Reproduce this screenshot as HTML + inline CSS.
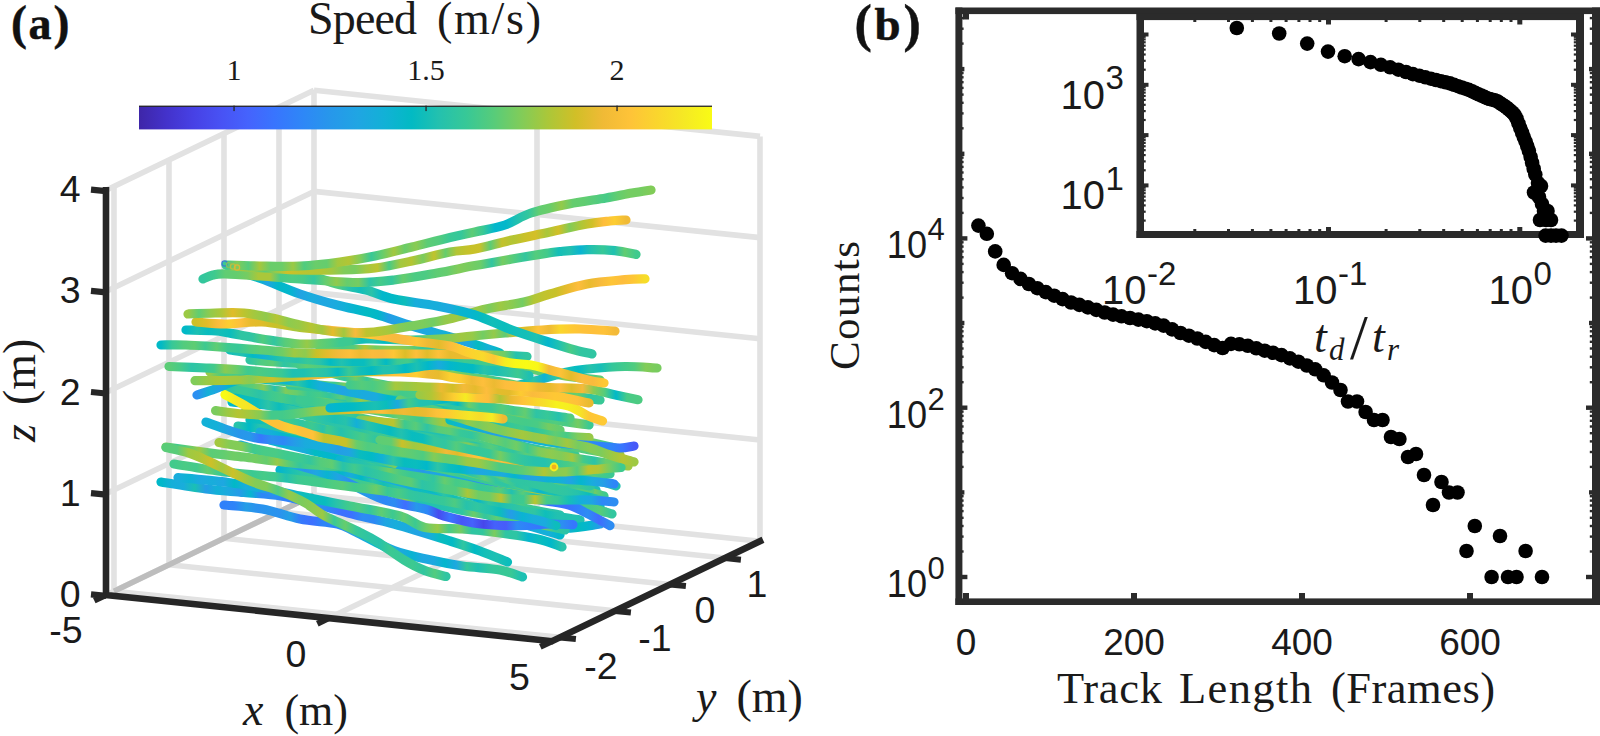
<!DOCTYPE html>
<html><head><meta charset="utf-8"><title>Figure</title>
<style>html,body{margin:0;padding:0;background:#fff}body{width:1600px;height:736px;overflow:hidden}svg{display:block}</style>
</head><body>
<svg width="1600" height="736" viewBox="0 0 1600 736">
<rect width="1600" height="736" fill="#fff"/>
<g stroke-linecap="butt" opacity="1">
<line x1="114.0" y1="591.2" x2="114.0" y2="186.4" stroke="#e2e2e2" stroke-width="5.6" />
<line x1="169.0" y1="564.7" x2="169.0" y2="159.9" stroke="#e2e2e2" stroke-width="5.6" />
<line x1="224.0" y1="538.3" x2="224.0" y2="133.5" stroke="#e2e2e2" stroke-width="5.6" />
<line x1="279.0" y1="511.8" x2="279.0" y2="107.0" stroke="#e2e2e2" stroke-width="5.6" />
<line x1="314.0" y1="495.0" x2="314.0" y2="90.2" stroke="#e2e2e2" stroke-width="5.6" />
<line x1="106.0" y1="595.0" x2="314.0" y2="495.0" stroke="#e2e2e2" stroke-width="5.6" />
<line x1="106.0" y1="493.8" x2="314.0" y2="393.8" stroke="#e2e2e2" stroke-width="5.6" />
<line x1="106.0" y1="392.6" x2="314.0" y2="292.6" stroke="#e2e2e2" stroke-width="5.6" />
<line x1="106.0" y1="291.4" x2="314.0" y2="191.4" stroke="#e2e2e2" stroke-width="5.6" />
<line x1="106.0" y1="190.2" x2="314.0" y2="90.2" stroke="#e2e2e2" stroke-width="5.6" />
<line x1="537.0" y1="518.1" x2="537.0" y2="113.3" stroke="#e2e2e2" stroke-width="5.6" />
<line x1="760.0" y1="541.2" x2="760.0" y2="136.4" stroke="#e2e2e2" stroke-width="5.6" />
<line x1="314.0" y1="495.0" x2="760.0" y2="541.2" stroke="#e2e2e2" stroke-width="5.6" />
<line x1="314.0" y1="393.8" x2="760.0" y2="440.0" stroke="#e2e2e2" stroke-width="5.6" />
<line x1="314.0" y1="292.6" x2="760.0" y2="338.8" stroke="#e2e2e2" stroke-width="5.6" />
<line x1="314.0" y1="191.4" x2="760.0" y2="237.6" stroke="#e2e2e2" stroke-width="5.6" />
<line x1="314.0" y1="90.2" x2="760.0" y2="136.4" stroke="#e2e2e2" stroke-width="5.6" />
<line x1="114.0" y1="591.2" x2="560.0" y2="637.4" stroke="#e2e2e2" stroke-width="5.6" />
<line x1="169.0" y1="564.7" x2="615.0" y2="610.9" stroke="#e2e2e2" stroke-width="5.6" />
<line x1="224.0" y1="538.3" x2="670.0" y2="584.5" stroke="#e2e2e2" stroke-width="5.6" />
<line x1="279.0" y1="511.8" x2="725.0" y2="558.0" stroke="#e2e2e2" stroke-width="5.6" />
<line x1="329.0" y1="618.1" x2="537.0" y2="518.1" stroke="#e2e2e2" stroke-width="5.6" />
<line x1="114.0" y1="591.2" x2="314.0" y2="495.0" stroke="#bdbdbd" stroke-width="5.6" />
</g>
<defs><linearGradient id="cb" x1="0" x2="1" y1="0" y2="0">
<stop offset="0.000" stop-color="#3e26a8"/>
<stop offset="0.048" stop-color="#4332cb"/>
<stop offset="0.095" stop-color="#4741e5"/>
<stop offset="0.143" stop-color="#4852f4"/>
<stop offset="0.190" stop-color="#4563fd"/>
<stop offset="0.238" stop-color="#3875fe"/>
<stop offset="0.286" stop-color="#2e87f7"/>
<stop offset="0.333" stop-color="#2797eb"/>
<stop offset="0.381" stop-color="#20a5e3"/>
<stop offset="0.429" stop-color="#12b1d6"/>
<stop offset="0.476" stop-color="#02bac3"/>
<stop offset="0.524" stop-color="#24c1ae"/>
<stop offset="0.571" stop-color="#37c897"/>
<stop offset="0.619" stop-color="#57cc7a"/>
<stop offset="0.667" stop-color="#81cc59"/>
<stop offset="0.714" stop-color="#abc739"/>
<stop offset="0.762" stop-color="#d1bf27"/>
<stop offset="0.810" stop-color="#f0ba36"/>
<stop offset="0.857" stop-color="#fec338"/>
<stop offset="0.905" stop-color="#fad62d"/>
<stop offset="0.952" stop-color="#f5e924"/>
<stop offset="1.000" stop-color="#f9fb15"/>
<stop offset="1" stop-color="#f9fb15"/>
</linearGradient></defs>
<rect x="139" y="106" width="573" height="23.4" fill="url(#cb)"/>
<rect x="139" y="105.6" width="573" height="1.3" fill="#262626"/>
<rect x="233.4" y="105.6" width="1.3" height="5.5" fill="#262626"/>
<rect x="425.4" y="105.6" width="1.3" height="5.5" fill="#262626"/>
<rect x="616.4" y="105.6" width="1.3" height="5.5" fill="#262626"/>
<defs><linearGradient id="g0" gradientUnits="userSpaceOnUse" x1="240" x2="580" y1="0" y2="0"><stop offset="0.000" stop-color="#0cbdbc"/><stop offset="0.033" stop-color="#2ec5a4"/><stop offset="0.067" stop-color="#06bcc0"/><stop offset="0.100" stop-color="#35c79b"/><stop offset="0.133" stop-color="#29c3aa"/><stop offset="0.167" stop-color="#2ec5a4"/><stop offset="0.200" stop-color="#62cd70"/><stop offset="0.233" stop-color="#3cc991"/><stop offset="0.267" stop-color="#3dca90"/><stop offset="0.300" stop-color="#58cc79"/><stop offset="0.333" stop-color="#6ccd69"/><stop offset="0.367" stop-color="#4ccb83"/><stop offset="0.400" stop-color="#55cc7b"/><stop offset="0.433" stop-color="#31c5a1"/><stop offset="0.467" stop-color="#35c79a"/><stop offset="0.500" stop-color="#31c5a1"/><stop offset="0.533" stop-color="#1dc0b3"/><stop offset="0.567" stop-color="#20c1b1"/><stop offset="0.600" stop-color="#23c1af"/><stop offset="0.633" stop-color="#3cc992"/><stop offset="0.667" stop-color="#43ca8b"/><stop offset="0.700" stop-color="#46cb88"/><stop offset="0.733" stop-color="#52cc7e"/><stop offset="0.767" stop-color="#34c79b"/><stop offset="0.800" stop-color="#4dcc82"/><stop offset="0.833" stop-color="#56cc7b"/><stop offset="0.867" stop-color="#65cd6e"/><stop offset="0.900" stop-color="#38c896"/><stop offset="0.933" stop-color="#39c895"/><stop offset="0.967" stop-color="#15bfb7"/><stop offset="1.000" stop-color="#2dc4a6"/></linearGradient><linearGradient id="g1" gradientUnits="userSpaceOnUse" x1="250" x2="600" y1="0" y2="0"><stop offset="0.000" stop-color="#06bcc0"/><stop offset="0.032" stop-color="#0fbeba"/><stop offset="0.065" stop-color="#37c897"/><stop offset="0.097" stop-color="#08b4d1"/><stop offset="0.129" stop-color="#2ac3a9"/><stop offset="0.161" stop-color="#17bfb7"/><stop offset="0.194" stop-color="#09bcbe"/><stop offset="0.226" stop-color="#26c2ac"/><stop offset="0.258" stop-color="#2dc4a5"/><stop offset="0.290" stop-color="#39c895"/><stop offset="0.323" stop-color="#2dc4a5"/><stop offset="0.355" stop-color="#2dc4a6"/><stop offset="0.387" stop-color="#30c5a1"/><stop offset="0.419" stop-color="#2fc5a3"/><stop offset="0.452" stop-color="#41ca8c"/><stop offset="0.484" stop-color="#38c896"/><stop offset="0.516" stop-color="#6ecd66"/><stop offset="0.548" stop-color="#29c3a9"/><stop offset="0.581" stop-color="#30c5a1"/><stop offset="0.613" stop-color="#2fc5a3"/><stop offset="0.645" stop-color="#11beba"/><stop offset="0.677" stop-color="#5fcd73"/><stop offset="0.710" stop-color="#06bbc1"/><stop offset="0.742" stop-color="#35c79a"/><stop offset="0.774" stop-color="#36c799"/><stop offset="0.806" stop-color="#74cc62"/><stop offset="0.839" stop-color="#2ac3a9"/><stop offset="0.871" stop-color="#6acd69"/><stop offset="0.903" stop-color="#36c899"/><stop offset="0.935" stop-color="#3ac994"/><stop offset="0.968" stop-color="#2fc5a3"/><stop offset="1.000" stop-color="#3dc991"/></linearGradient><linearGradient id="g2" gradientUnits="userSpaceOnUse" x1="230" x2="575" y1="0" y2="0"><stop offset="0.000" stop-color="#37c898"/><stop offset="0.032" stop-color="#4dcc82"/><stop offset="0.065" stop-color="#5acc78"/><stop offset="0.097" stop-color="#88cb53"/><stop offset="0.129" stop-color="#25c2ae"/><stop offset="0.161" stop-color="#7ecc5b"/><stop offset="0.194" stop-color="#66cd6d"/><stop offset="0.226" stop-color="#3ac993"/><stop offset="0.258" stop-color="#45cb88"/><stop offset="0.290" stop-color="#33c69d"/><stop offset="0.323" stop-color="#5ccc76"/><stop offset="0.355" stop-color="#35c79b"/><stop offset="0.387" stop-color="#2ac3a9"/><stop offset="0.419" stop-color="#23c1af"/><stop offset="0.452" stop-color="#1bc0b4"/><stop offset="0.484" stop-color="#11beb9"/><stop offset="0.516" stop-color="#01b8c9"/><stop offset="0.548" stop-color="#38c896"/><stop offset="0.581" stop-color="#07b5cf"/><stop offset="0.613" stop-color="#1baade"/><stop offset="0.645" stop-color="#2ac3a9"/><stop offset="0.677" stop-color="#2fc5a3"/><stop offset="0.710" stop-color="#38c896"/><stop offset="0.742" stop-color="#30c5a1"/><stop offset="0.774" stop-color="#31c6a0"/><stop offset="0.806" stop-color="#37c897"/><stop offset="0.839" stop-color="#44ca8a"/><stop offset="0.871" stop-color="#2ec4a5"/><stop offset="0.903" stop-color="#33c69d"/><stop offset="0.935" stop-color="#74cc62"/><stop offset="0.968" stop-color="#55cc7c"/><stop offset="1.000" stop-color="#39c895"/></linearGradient><linearGradient id="g3" gradientUnits="userSpaceOnUse" x1="270" x2="560" y1="0" y2="0"><stop offset="0.000" stop-color="#05bbc1"/><stop offset="0.038" stop-color="#08b4d0"/><stop offset="0.077" stop-color="#18addb"/><stop offset="0.115" stop-color="#19acdc"/><stop offset="0.154" stop-color="#02bbc3"/><stop offset="0.192" stop-color="#03b7cc"/><stop offset="0.231" stop-color="#01b8ca"/><stop offset="0.269" stop-color="#01b9c8"/><stop offset="0.308" stop-color="#17bfb6"/><stop offset="0.346" stop-color="#39c994"/><stop offset="0.385" stop-color="#29c3a9"/><stop offset="0.423" stop-color="#1bc0b4"/><stop offset="0.462" stop-color="#44cb89"/><stop offset="0.500" stop-color="#3dc990"/><stop offset="0.538" stop-color="#57cc7a"/><stop offset="0.577" stop-color="#69cd6a"/><stop offset="0.615" stop-color="#4acb85"/><stop offset="0.654" stop-color="#4ccb83"/><stop offset="0.692" stop-color="#4ecc81"/><stop offset="0.731" stop-color="#37c898"/><stop offset="0.769" stop-color="#62cd70"/><stop offset="0.808" stop-color="#78cc5f"/><stop offset="0.846" stop-color="#50cc7f"/><stop offset="0.885" stop-color="#3eca8f"/><stop offset="0.923" stop-color="#38c896"/><stop offset="0.962" stop-color="#2dc4a5"/><stop offset="1.000" stop-color="#28c3ab"/></linearGradient><linearGradient id="g4" gradientUnits="userSpaceOnUse" x1="300" x2="576" y1="0" y2="0"><stop offset="0.000" stop-color="#02bac3"/><stop offset="0.040" stop-color="#08b4d0"/><stop offset="0.080" stop-color="#09b4d1"/><stop offset="0.120" stop-color="#1fa6e2"/><stop offset="0.160" stop-color="#0db3d3"/><stop offset="0.200" stop-color="#19acdc"/><stop offset="0.240" stop-color="#22a1e4"/><stop offset="0.280" stop-color="#269ae8"/><stop offset="0.320" stop-color="#09b4d1"/><stop offset="0.360" stop-color="#10beba"/><stop offset="0.400" stop-color="#05b6ce"/><stop offset="0.440" stop-color="#02bac4"/><stop offset="0.480" stop-color="#07bcc0"/><stop offset="0.520" stop-color="#2cc4a7"/><stop offset="0.560" stop-color="#10beba"/><stop offset="0.600" stop-color="#3ac993"/><stop offset="0.640" stop-color="#2ec4a4"/><stop offset="0.680" stop-color="#3dc990"/><stop offset="0.720" stop-color="#2cc4a7"/><stop offset="0.760" stop-color="#1fc0b1"/><stop offset="0.800" stop-color="#01b8ca"/><stop offset="0.840" stop-color="#02bac4"/><stop offset="0.880" stop-color="#01b8c9"/><stop offset="0.920" stop-color="#12b1d6"/><stop offset="0.960" stop-color="#269ae8"/><stop offset="1.000" stop-color="#3578fd"/></linearGradient><linearGradient id="g5" gradientUnits="userSpaceOnUse" x1="260" x2="600" y1="0" y2="0"><stop offset="0.000" stop-color="#18aedb"/><stop offset="0.033" stop-color="#0eb2d4"/><stop offset="0.067" stop-color="#1da9e0"/><stop offset="0.100" stop-color="#1fa6e2"/><stop offset="0.133" stop-color="#1fa6e2"/><stop offset="0.167" stop-color="#12b1d6"/><stop offset="0.200" stop-color="#10b2d5"/><stop offset="0.233" stop-color="#1ca9e0"/><stop offset="0.267" stop-color="#01b7ca"/><stop offset="0.300" stop-color="#07b5cf"/><stop offset="0.333" stop-color="#04b6cc"/><stop offset="0.367" stop-color="#2bc3a8"/><stop offset="0.400" stop-color="#2bc3a8"/><stop offset="0.433" stop-color="#0fbebb"/><stop offset="0.467" stop-color="#2bc3a8"/><stop offset="0.500" stop-color="#35c79a"/><stop offset="0.533" stop-color="#2bc3a8"/><stop offset="0.567" stop-color="#35c79a"/><stop offset="0.600" stop-color="#4acb84"/><stop offset="0.633" stop-color="#25c2ad"/><stop offset="0.667" stop-color="#50cc80"/><stop offset="0.700" stop-color="#63cd70"/><stop offset="0.733" stop-color="#5ecc74"/><stop offset="0.767" stop-color="#34c79b"/><stop offset="0.800" stop-color="#59cc79"/><stop offset="0.833" stop-color="#3bc992"/><stop offset="0.867" stop-color="#60cd73"/><stop offset="0.900" stop-color="#5bcc77"/><stop offset="0.933" stop-color="#45cb89"/><stop offset="0.967" stop-color="#2fc5a3"/><stop offset="1.000" stop-color="#2cc4a7"/></linearGradient><linearGradient id="g6" gradientUnits="userSpaceOnUse" x1="300" x2="589" y1="0" y2="0"><stop offset="0.000" stop-color="#68cd6b"/><stop offset="0.038" stop-color="#36c898"/><stop offset="0.077" stop-color="#4fcc81"/><stop offset="0.115" stop-color="#48cb86"/><stop offset="0.154" stop-color="#34c79b"/><stop offset="0.192" stop-color="#6fcd66"/><stop offset="0.231" stop-color="#36c899"/><stop offset="0.269" stop-color="#71cd64"/><stop offset="0.308" stop-color="#1dc0b3"/><stop offset="0.346" stop-color="#1ec0b2"/><stop offset="0.385" stop-color="#65cd6e"/><stop offset="0.423" stop-color="#64cd6f"/><stop offset="0.462" stop-color="#55cc7b"/><stop offset="0.500" stop-color="#69cd6b"/><stop offset="0.538" stop-color="#41ca8c"/><stop offset="0.577" stop-color="#71cd64"/><stop offset="0.615" stop-color="#72cd64"/><stop offset="0.654" stop-color="#84cc56"/><stop offset="0.692" stop-color="#9ac946"/><stop offset="0.731" stop-color="#71cd64"/><stop offset="0.769" stop-color="#6ecd67"/><stop offset="0.808" stop-color="#44cb8a"/><stop offset="0.846" stop-color="#44cb89"/><stop offset="0.885" stop-color="#53cc7d"/><stop offset="0.923" stop-color="#48cb86"/><stop offset="0.962" stop-color="#75cc61"/><stop offset="1.000" stop-color="#3bc993"/></linearGradient><linearGradient id="g7" gradientUnits="userSpaceOnUse" x1="232" x2="590" y1="0" y2="0"><stop offset="0.000" stop-color="#01b9c7"/><stop offset="0.031" stop-color="#1fa5e2"/><stop offset="0.062" stop-color="#01bac5"/><stop offset="0.094" stop-color="#13b0d7"/><stop offset="0.125" stop-color="#26c2ad"/><stop offset="0.156" stop-color="#0bbdbd"/><stop offset="0.188" stop-color="#0abdbd"/><stop offset="0.219" stop-color="#07bcbf"/><stop offset="0.250" stop-color="#15afd9"/><stop offset="0.281" stop-color="#1ea7e1"/><stop offset="0.312" stop-color="#2798ea"/><stop offset="0.344" stop-color="#05b6ce"/><stop offset="0.375" stop-color="#1caadf"/><stop offset="0.406" stop-color="#15afd9"/><stop offset="0.438" stop-color="#02b7cb"/><stop offset="0.469" stop-color="#2dc4a5"/><stop offset="0.500" stop-color="#10b2d5"/><stop offset="0.531" stop-color="#1cc0b3"/><stop offset="0.562" stop-color="#15bfb8"/><stop offset="0.594" stop-color="#2fc5a3"/><stop offset="0.625" stop-color="#04bbc2"/><stop offset="0.656" stop-color="#2dc4a6"/><stop offset="0.688" stop-color="#3bc992"/><stop offset="0.719" stop-color="#42ca8b"/><stop offset="0.750" stop-color="#3cc992"/><stop offset="0.781" stop-color="#05bbc1"/><stop offset="0.812" stop-color="#12beb9"/><stop offset="0.844" stop-color="#04bbc2"/><stop offset="0.875" stop-color="#16afd9"/><stop offset="0.906" stop-color="#1caadf"/><stop offset="0.938" stop-color="#01b8ca"/><stop offset="0.969" stop-color="#13b0d7"/><stop offset="1.000" stop-color="#1da9e0"/></linearGradient><linearGradient id="g8" gradientUnits="userSpaceOnUse" x1="238" x2="596" y1="0" y2="0"><stop offset="0.000" stop-color="#28c3aa"/><stop offset="0.031" stop-color="#01b9c7"/><stop offset="0.062" stop-color="#29c3aa"/><stop offset="0.094" stop-color="#26c2ac"/><stop offset="0.125" stop-color="#2bc3a8"/><stop offset="0.156" stop-color="#37c898"/><stop offset="0.188" stop-color="#37c898"/><stop offset="0.219" stop-color="#3dc990"/><stop offset="0.250" stop-color="#42ca8b"/><stop offset="0.281" stop-color="#7acc5d"/><stop offset="0.312" stop-color="#41ca8c"/><stop offset="0.344" stop-color="#6ccd68"/><stop offset="0.375" stop-color="#58cc79"/><stop offset="0.406" stop-color="#3ac993"/><stop offset="0.438" stop-color="#4fcc81"/><stop offset="0.469" stop-color="#2dc4a6"/><stop offset="0.500" stop-color="#4acb84"/><stop offset="0.531" stop-color="#2bc3a8"/><stop offset="0.562" stop-color="#33c69e"/><stop offset="0.594" stop-color="#46cb88"/><stop offset="0.625" stop-color="#5bcc77"/><stop offset="0.656" stop-color="#65cd6e"/><stop offset="0.688" stop-color="#69cd6a"/><stop offset="0.719" stop-color="#4acb85"/><stop offset="0.750" stop-color="#3ac994"/><stop offset="0.781" stop-color="#5fcd73"/><stop offset="0.812" stop-color="#58cc79"/><stop offset="0.844" stop-color="#3ac994"/><stop offset="0.875" stop-color="#63cd70"/><stop offset="0.906" stop-color="#46cb88"/><stop offset="0.938" stop-color="#2ec5a4"/><stop offset="0.969" stop-color="#3eca8f"/><stop offset="1.000" stop-color="#1dc0b3"/></linearGradient><linearGradient id="g9" gradientUnits="userSpaceOnUse" x1="270" x2="610" y1="0" y2="0"><stop offset="0.000" stop-color="#3bc993"/><stop offset="0.033" stop-color="#53cc7d"/><stop offset="0.067" stop-color="#2ac3a9"/><stop offset="0.100" stop-color="#3dc990"/><stop offset="0.133" stop-color="#24c2ae"/><stop offset="0.167" stop-color="#40ca8d"/><stop offset="0.200" stop-color="#2cc4a6"/><stop offset="0.233" stop-color="#3dc991"/><stop offset="0.267" stop-color="#28c3aa"/><stop offset="0.300" stop-color="#3dc990"/><stop offset="0.333" stop-color="#66cd6d"/><stop offset="0.367" stop-color="#62cd71"/><stop offset="0.400" stop-color="#36c799"/><stop offset="0.433" stop-color="#8ccb50"/><stop offset="0.467" stop-color="#98c947"/><stop offset="0.500" stop-color="#7ecc5b"/><stop offset="0.533" stop-color="#bfc32d"/><stop offset="0.567" stop-color="#65cd6e"/><stop offset="0.600" stop-color="#76cc61"/><stop offset="0.633" stop-color="#8fcb4e"/><stop offset="0.667" stop-color="#87cb54"/><stop offset="0.700" stop-color="#78cc5f"/><stop offset="0.733" stop-color="#37c897"/><stop offset="0.767" stop-color="#2fc5a3"/><stop offset="0.800" stop-color="#5bcc77"/><stop offset="0.833" stop-color="#33c69d"/><stop offset="0.867" stop-color="#4ccb83"/><stop offset="0.900" stop-color="#32c69e"/><stop offset="0.933" stop-color="#5ccc76"/><stop offset="0.967" stop-color="#49cb85"/><stop offset="1.000" stop-color="#3bc992"/></linearGradient><linearGradient id="g10" gradientUnits="userSpaceOnUse" x1="300" x2="600" y1="0" y2="0"><stop offset="0.000" stop-color="#33c79d"/><stop offset="0.037" stop-color="#2fc5a3"/><stop offset="0.074" stop-color="#24c1af"/><stop offset="0.111" stop-color="#29c3aa"/><stop offset="0.148" stop-color="#1fc0b2"/><stop offset="0.185" stop-color="#1bc0b4"/><stop offset="0.222" stop-color="#06bcc1"/><stop offset="0.259" stop-color="#3ac994"/><stop offset="0.296" stop-color="#29c3aa"/><stop offset="0.333" stop-color="#3eca8f"/><stop offset="0.370" stop-color="#45cb89"/><stop offset="0.407" stop-color="#28c2ab"/><stop offset="0.444" stop-color="#1cc0b4"/><stop offset="0.481" stop-color="#5bcc76"/><stop offset="0.519" stop-color="#39c994"/><stop offset="0.556" stop-color="#49cb85"/><stop offset="0.593" stop-color="#47cb87"/><stop offset="0.630" stop-color="#4dcc82"/><stop offset="0.667" stop-color="#30c5a1"/><stop offset="0.704" stop-color="#3cc992"/><stop offset="0.741" stop-color="#33c69e"/><stop offset="0.778" stop-color="#35c79a"/><stop offset="0.815" stop-color="#02bac5"/><stop offset="0.852" stop-color="#37c897"/><stop offset="0.889" stop-color="#2cc4a7"/><stop offset="0.926" stop-color="#03b7cc"/><stop offset="0.963" stop-color="#02bbc3"/><stop offset="1.000" stop-color="#0abdbd"/></linearGradient><linearGradient id="g11" gradientUnits="userSpaceOnUse" x1="310" x2="604" y1="0" y2="0"><stop offset="0.000" stop-color="#61cd71"/><stop offset="0.038" stop-color="#50cc80"/><stop offset="0.077" stop-color="#79cc5e"/><stop offset="0.115" stop-color="#50cc7f"/><stop offset="0.154" stop-color="#39c895"/><stop offset="0.192" stop-color="#3fca8f"/><stop offset="0.231" stop-color="#5fcd73"/><stop offset="0.269" stop-color="#38c896"/><stop offset="0.308" stop-color="#53cc7d"/><stop offset="0.346" stop-color="#50cc7f"/><stop offset="0.385" stop-color="#3fca8e"/><stop offset="0.423" stop-color="#47cb87"/><stop offset="0.462" stop-color="#36c799"/><stop offset="0.500" stop-color="#3cc991"/><stop offset="0.538" stop-color="#37c897"/><stop offset="0.577" stop-color="#3bc992"/><stop offset="0.615" stop-color="#32c69f"/><stop offset="0.654" stop-color="#4dcc82"/><stop offset="0.692" stop-color="#4bcb84"/><stop offset="0.731" stop-color="#4dcb82"/><stop offset="0.769" stop-color="#8acb52"/><stop offset="0.808" stop-color="#a1c840"/><stop offset="0.846" stop-color="#7fcc5a"/><stop offset="0.885" stop-color="#a6c83d"/><stop offset="0.923" stop-color="#8acb52"/><stop offset="0.962" stop-color="#7dcc5b"/><stop offset="1.000" stop-color="#40ca8d"/></linearGradient><linearGradient id="g12" gradientUnits="userSpaceOnUse" x1="340" x2="580" y1="0" y2="0"><stop offset="0.000" stop-color="#0cb3d3"/><stop offset="0.048" stop-color="#23c1af"/><stop offset="0.095" stop-color="#26c2ad"/><stop offset="0.143" stop-color="#31c69f"/><stop offset="0.190" stop-color="#32c69e"/><stop offset="0.238" stop-color="#48cb86"/><stop offset="0.286" stop-color="#2cc4a7"/><stop offset="0.333" stop-color="#33c69d"/><stop offset="0.381" stop-color="#0bbdbd"/><stop offset="0.429" stop-color="#11b1d6"/><stop offset="0.476" stop-color="#05bbc1"/><stop offset="0.524" stop-color="#2fc5a3"/><stop offset="0.571" stop-color="#05b6cd"/><stop offset="0.619" stop-color="#33c69e"/><stop offset="0.667" stop-color="#1cc0b3"/><stop offset="0.714" stop-color="#2ac3a9"/><stop offset="0.762" stop-color="#32c69e"/><stop offset="0.810" stop-color="#30c5a2"/><stop offset="0.857" stop-color="#0ebebb"/><stop offset="0.905" stop-color="#22c1b0"/><stop offset="0.952" stop-color="#20c1b1"/><stop offset="1.000" stop-color="#21c1b1"/></linearGradient><linearGradient id="g13" gradientUnits="userSpaceOnUse" x1="360" x2="628" y1="0" y2="0"><stop offset="0.000" stop-color="#7ecc5b"/><stop offset="0.042" stop-color="#b8c431"/><stop offset="0.083" stop-color="#b6c532"/><stop offset="0.125" stop-color="#b8c431"/><stop offset="0.167" stop-color="#3dc990"/><stop offset="0.208" stop-color="#59cc78"/><stop offset="0.250" stop-color="#2ec4a5"/><stop offset="0.292" stop-color="#5acc77"/><stop offset="0.333" stop-color="#5fcd73"/><stop offset="0.375" stop-color="#37c898"/><stop offset="0.417" stop-color="#31c6a0"/><stop offset="0.458" stop-color="#58cc79"/><stop offset="0.500" stop-color="#71cd64"/><stop offset="0.542" stop-color="#54cc7c"/><stop offset="0.583" stop-color="#70cd65"/><stop offset="0.625" stop-color="#3eca8f"/><stop offset="0.667" stop-color="#7ecc5b"/><stop offset="0.708" stop-color="#8fcb4e"/><stop offset="0.750" stop-color="#81cc58"/><stop offset="0.792" stop-color="#a1c840"/><stop offset="0.833" stop-color="#42ca8b"/><stop offset="0.875" stop-color="#2bc3a8"/><stop offset="0.917" stop-color="#6acd6a"/><stop offset="0.958" stop-color="#66cd6d"/><stop offset="1.000" stop-color="#9fc942"/></linearGradient><linearGradient id="g14" gradientUnits="userSpaceOnUse" x1="400" x2="616" y1="0" y2="0"><stop offset="0.000" stop-color="#3eca8f"/><stop offset="0.053" stop-color="#41ca8c"/><stop offset="0.105" stop-color="#5fcd73"/><stop offset="0.158" stop-color="#64cd6e"/><stop offset="0.211" stop-color="#2cc4a7"/><stop offset="0.263" stop-color="#4ccb83"/><stop offset="0.316" stop-color="#87cb54"/><stop offset="0.368" stop-color="#3bc992"/><stop offset="0.421" stop-color="#56cc7b"/><stop offset="0.474" stop-color="#38c896"/><stop offset="0.526" stop-color="#30c5a2"/><stop offset="0.579" stop-color="#57cc7a"/><stop offset="0.632" stop-color="#50cc80"/><stop offset="0.684" stop-color="#39c895"/><stop offset="0.737" stop-color="#5bcc76"/><stop offset="0.789" stop-color="#32c69f"/><stop offset="0.842" stop-color="#3cc991"/><stop offset="0.895" stop-color="#5acc77"/><stop offset="0.947" stop-color="#3ac994"/><stop offset="1.000" stop-color="#23c1af"/></linearGradient><linearGradient id="g15" gradientUnits="userSpaceOnUse" x1="280" x2="575" y1="0" y2="0"><stop offset="0.000" stop-color="#17bfb7"/><stop offset="0.038" stop-color="#1dc0b3"/><stop offset="0.077" stop-color="#34c79c"/><stop offset="0.115" stop-color="#34c79b"/><stop offset="0.154" stop-color="#29c3aa"/><stop offset="0.192" stop-color="#2cc4a7"/><stop offset="0.231" stop-color="#2ec4a4"/><stop offset="0.269" stop-color="#27c2ac"/><stop offset="0.308" stop-color="#39c895"/><stop offset="0.346" stop-color="#35c79a"/><stop offset="0.385" stop-color="#2ec4a4"/><stop offset="0.423" stop-color="#19bfb5"/><stop offset="0.462" stop-color="#12beb9"/><stop offset="0.500" stop-color="#31c6a0"/><stop offset="0.538" stop-color="#23c1af"/><stop offset="0.577" stop-color="#32c69f"/><stop offset="0.615" stop-color="#14bfb8"/><stop offset="0.654" stop-color="#32c69f"/><stop offset="0.692" stop-color="#60cd72"/><stop offset="0.731" stop-color="#31c6a0"/><stop offset="0.769" stop-color="#2ec5a4"/><stop offset="0.808" stop-color="#4acb85"/><stop offset="0.846" stop-color="#7acc5e"/><stop offset="0.885" stop-color="#6acd6a"/><stop offset="0.923" stop-color="#36c899"/><stop offset="0.962" stop-color="#31c6a0"/><stop offset="1.000" stop-color="#32c69f"/></linearGradient><linearGradient id="g16" gradientUnits="userSpaceOnUse" x1="226" x2="580" y1="0" y2="0"><stop offset="0.000" stop-color="#26c2ad"/><stop offset="0.031" stop-color="#37c897"/><stop offset="0.062" stop-color="#37c898"/><stop offset="0.094" stop-color="#2bc3a7"/><stop offset="0.125" stop-color="#3cc992"/><stop offset="0.156" stop-color="#48cb86"/><stop offset="0.188" stop-color="#36c898"/><stop offset="0.219" stop-color="#30c5a1"/><stop offset="0.250" stop-color="#52cc7e"/><stop offset="0.281" stop-color="#67cd6d"/><stop offset="0.312" stop-color="#30c5a1"/><stop offset="0.344" stop-color="#30c5a1"/><stop offset="0.375" stop-color="#43ca8a"/><stop offset="0.406" stop-color="#3ac994"/><stop offset="0.438" stop-color="#35c79a"/><stop offset="0.469" stop-color="#73cd63"/><stop offset="0.500" stop-color="#38c896"/><stop offset="0.531" stop-color="#3eca90"/><stop offset="0.562" stop-color="#3fca8e"/><stop offset="0.594" stop-color="#3bc993"/><stop offset="0.625" stop-color="#49cb85"/><stop offset="0.656" stop-color="#60cd72"/><stop offset="0.688" stop-color="#73cd62"/><stop offset="0.719" stop-color="#55cc7c"/><stop offset="0.750" stop-color="#3eca8f"/><stop offset="0.781" stop-color="#27c2ab"/><stop offset="0.812" stop-color="#34c79b"/><stop offset="0.844" stop-color="#27c2ab"/><stop offset="0.875" stop-color="#36c898"/><stop offset="0.906" stop-color="#55cc7c"/><stop offset="0.938" stop-color="#47cb87"/><stop offset="0.969" stop-color="#43ca8a"/><stop offset="1.000" stop-color="#3dc990"/></linearGradient><linearGradient id="g17" gradientUnits="userSpaceOnUse" x1="380" x2="600" y1="0" y2="0"><stop offset="0.000" stop-color="#1caadf"/><stop offset="0.050" stop-color="#15afd9"/><stop offset="0.100" stop-color="#1baade"/><stop offset="0.150" stop-color="#10b2d5"/><stop offset="0.200" stop-color="#0fbeba"/><stop offset="0.250" stop-color="#13b0d7"/><stop offset="0.300" stop-color="#01b9c8"/><stop offset="0.350" stop-color="#14b0d8"/><stop offset="0.400" stop-color="#14beb8"/><stop offset="0.450" stop-color="#04b6cd"/><stop offset="0.500" stop-color="#0fb2d4"/><stop offset="0.550" stop-color="#17aeda"/><stop offset="0.600" stop-color="#12b1d6"/><stop offset="0.650" stop-color="#07b5d0"/><stop offset="0.700" stop-color="#1da9e0"/><stop offset="0.750" stop-color="#02bbc3"/><stop offset="0.800" stop-color="#16bfb7"/><stop offset="0.850" stop-color="#13b0d7"/><stop offset="0.900" stop-color="#03bbc2"/><stop offset="0.950" stop-color="#06b5cf"/><stop offset="1.000" stop-color="#269be8"/></linearGradient><linearGradient id="g18" gradientUnits="userSpaceOnUse" x1="235" x2="600" y1="0" y2="0"><stop offset="0.000" stop-color="#02bac4"/><stop offset="0.030" stop-color="#0bbdbd"/><stop offset="0.061" stop-color="#0ebdbb"/><stop offset="0.091" stop-color="#2cc4a7"/><stop offset="0.121" stop-color="#0cbdbc"/><stop offset="0.152" stop-color="#2dc4a6"/><stop offset="0.182" stop-color="#35c79a"/><stop offset="0.212" stop-color="#37c897"/><stop offset="0.242" stop-color="#29c3aa"/><stop offset="0.273" stop-color="#1bc0b4"/><stop offset="0.303" stop-color="#27c2ab"/><stop offset="0.333" stop-color="#13b0d7"/><stop offset="0.364" stop-color="#28c2ab"/><stop offset="0.394" stop-color="#13beb9"/><stop offset="0.424" stop-color="#05bbc1"/><stop offset="0.455" stop-color="#23c1af"/><stop offset="0.485" stop-color="#08bcbf"/><stop offset="0.515" stop-color="#0abdbd"/><stop offset="0.545" stop-color="#33c69d"/><stop offset="0.576" stop-color="#31c6a0"/><stop offset="0.606" stop-color="#54cc7c"/><stop offset="0.636" stop-color="#36c899"/><stop offset="0.667" stop-color="#34c79b"/><stop offset="0.697" stop-color="#36c899"/><stop offset="0.727" stop-color="#74cd62"/><stop offset="0.758" stop-color="#3eca8f"/><stop offset="0.788" stop-color="#31c5a1"/><stop offset="0.818" stop-color="#27c2ab"/><stop offset="0.848" stop-color="#25c2ae"/><stop offset="0.879" stop-color="#36c799"/><stop offset="0.909" stop-color="#46cb88"/><stop offset="0.939" stop-color="#61cd71"/><stop offset="0.970" stop-color="#69cd6b"/><stop offset="1.000" stop-color="#57cc7a"/></linearGradient><linearGradient id="g19" gradientUnits="userSpaceOnUse" x1="245" x2="590" y1="0" y2="0"><stop offset="0.000" stop-color="#3fca8e"/><stop offset="0.032" stop-color="#37c898"/><stop offset="0.065" stop-color="#19bfb5"/><stop offset="0.097" stop-color="#2dc4a5"/><stop offset="0.129" stop-color="#3dca90"/><stop offset="0.161" stop-color="#2fc5a3"/><stop offset="0.194" stop-color="#3dc991"/><stop offset="0.226" stop-color="#28c3ab"/><stop offset="0.258" stop-color="#57cc7a"/><stop offset="0.290" stop-color="#4ecc81"/><stop offset="0.323" stop-color="#4ecc81"/><stop offset="0.355" stop-color="#56cc7b"/><stop offset="0.387" stop-color="#1fc0b2"/><stop offset="0.419" stop-color="#35c79a"/><stop offset="0.452" stop-color="#2ec4a5"/><stop offset="0.484" stop-color="#60cd72"/><stop offset="0.516" stop-color="#2fc5a2"/><stop offset="0.548" stop-color="#25c2ae"/><stop offset="0.581" stop-color="#33c69d"/><stop offset="0.613" stop-color="#04bbc1"/><stop offset="0.645" stop-color="#31c6a0"/><stop offset="0.677" stop-color="#01b9c7"/><stop offset="0.710" stop-color="#11beb9"/><stop offset="0.742" stop-color="#05bbc1"/><stop offset="0.774" stop-color="#31c69f"/><stop offset="0.806" stop-color="#01b8c8"/><stop offset="0.839" stop-color="#3ac994"/><stop offset="0.871" stop-color="#2ac3a8"/><stop offset="0.903" stop-color="#3bc993"/><stop offset="0.935" stop-color="#2fc5a3"/><stop offset="0.968" stop-color="#4dcc82"/><stop offset="1.000" stop-color="#55cc7c"/></linearGradient><linearGradient id="g20" gradientUnits="userSpaceOnUse" x1="300" x2="620" y1="0" y2="0"><stop offset="0.000" stop-color="#3cc992"/><stop offset="0.034" stop-color="#3bc992"/><stop offset="0.069" stop-color="#48cb86"/><stop offset="0.103" stop-color="#5acc78"/><stop offset="0.138" stop-color="#3dc990"/><stop offset="0.172" stop-color="#35c79b"/><stop offset="0.207" stop-color="#35c79a"/><stop offset="0.241" stop-color="#63cd70"/><stop offset="0.276" stop-color="#46cb88"/><stop offset="0.310" stop-color="#6ecd67"/><stop offset="0.345" stop-color="#51cc7f"/><stop offset="0.379" stop-color="#3ac994"/><stop offset="0.414" stop-color="#79cc5f"/><stop offset="0.448" stop-color="#a7c73c"/><stop offset="0.483" stop-color="#71cd65"/><stop offset="0.517" stop-color="#66cd6d"/><stop offset="0.552" stop-color="#76cc60"/><stop offset="0.586" stop-color="#a9c73b"/><stop offset="0.621" stop-color="#6ccd68"/><stop offset="0.655" stop-color="#65cd6e"/><stop offset="0.690" stop-color="#7acc5e"/><stop offset="0.724" stop-color="#59cc78"/><stop offset="0.759" stop-color="#53cc7d"/><stop offset="0.793" stop-color="#42ca8c"/><stop offset="0.828" stop-color="#3fca8e"/><stop offset="0.862" stop-color="#54cc7c"/><stop offset="0.897" stop-color="#54cc7c"/><stop offset="0.931" stop-color="#73cd63"/><stop offset="0.966" stop-color="#6bcd69"/><stop offset="1.000" stop-color="#a1c840"/></linearGradient><linearGradient id="g21" gradientUnits="userSpaceOnUse" x1="260" x2="585" y1="0" y2="0"><stop offset="0.000" stop-color="#17aeda"/><stop offset="0.034" stop-color="#15afd9"/><stop offset="0.069" stop-color="#04b6cd"/><stop offset="0.103" stop-color="#07bcbf"/><stop offset="0.138" stop-color="#02bac4"/><stop offset="0.172" stop-color="#08bcbf"/><stop offset="0.207" stop-color="#01b8c8"/><stop offset="0.241" stop-color="#23c1af"/><stop offset="0.276" stop-color="#22c1b0"/><stop offset="0.310" stop-color="#25c2ad"/><stop offset="0.345" stop-color="#23c1af"/><stop offset="0.379" stop-color="#3dc991"/><stop offset="0.414" stop-color="#7ccc5c"/><stop offset="0.448" stop-color="#45cb88"/><stop offset="0.483" stop-color="#44ca8a"/><stop offset="0.517" stop-color="#54cc7c"/><stop offset="0.552" stop-color="#40ca8d"/><stop offset="0.586" stop-color="#4bcb83"/><stop offset="0.621" stop-color="#36c898"/><stop offset="0.655" stop-color="#33c69d"/><stop offset="0.690" stop-color="#3cc991"/><stop offset="0.724" stop-color="#37c897"/><stop offset="0.759" stop-color="#34c79c"/><stop offset="0.793" stop-color="#2fc5a2"/><stop offset="0.828" stop-color="#47cb87"/><stop offset="0.862" stop-color="#34c79c"/><stop offset="0.897" stop-color="#64cd6f"/><stop offset="0.931" stop-color="#3bc992"/><stop offset="0.966" stop-color="#39c994"/><stop offset="1.000" stop-color="#3fca8e"/></linearGradient><linearGradient id="g22" gradientUnits="userSpaceOnUse" x1="330" x2="605" y1="0" y2="0"><stop offset="0.000" stop-color="#3bc992"/><stop offset="0.040" stop-color="#24c1ae"/><stop offset="0.080" stop-color="#36c898"/><stop offset="0.120" stop-color="#48cb86"/><stop offset="0.160" stop-color="#33c69e"/><stop offset="0.200" stop-color="#22c1af"/><stop offset="0.240" stop-color="#4ecc82"/><stop offset="0.280" stop-color="#4ecc81"/><stop offset="0.320" stop-color="#5ccc76"/><stop offset="0.360" stop-color="#52cc7e"/><stop offset="0.400" stop-color="#53cc7d"/><stop offset="0.440" stop-color="#56cc7b"/><stop offset="0.480" stop-color="#6fcd66"/><stop offset="0.520" stop-color="#4ecc81"/><stop offset="0.560" stop-color="#48cb86"/><stop offset="0.600" stop-color="#33c69e"/><stop offset="0.640" stop-color="#4acb85"/><stop offset="0.680" stop-color="#2dc4a5"/><stop offset="0.720" stop-color="#33c79d"/><stop offset="0.760" stop-color="#07b5d0"/><stop offset="0.800" stop-color="#1cc0b3"/><stop offset="0.840" stop-color="#07bcc0"/><stop offset="0.880" stop-color="#05b6ce"/><stop offset="0.920" stop-color="#09bcbe"/><stop offset="0.960" stop-color="#0db3d3"/><stop offset="1.000" stop-color="#1da9e0"/></linearGradient><linearGradient id="g23" gradientUnits="userSpaceOnUse" x1="350" x2="615" y1="0" y2="0"><stop offset="0.000" stop-color="#42ca8b"/><stop offset="0.042" stop-color="#96ca48"/><stop offset="0.083" stop-color="#80cc59"/><stop offset="0.125" stop-color="#8acb51"/><stop offset="0.167" stop-color="#6acd6a"/><stop offset="0.208" stop-color="#b8c431"/><stop offset="0.250" stop-color="#a0c841"/><stop offset="0.292" stop-color="#78cc5f"/><stop offset="0.333" stop-color="#70cd65"/><stop offset="0.375" stop-color="#3cc992"/><stop offset="0.417" stop-color="#6dcd67"/><stop offset="0.458" stop-color="#37c897"/><stop offset="0.500" stop-color="#68cd6c"/><stop offset="0.542" stop-color="#44cb89"/><stop offset="0.583" stop-color="#40ca8d"/><stop offset="0.625" stop-color="#5acc77"/><stop offset="0.667" stop-color="#56cc7b"/><stop offset="0.708" stop-color="#3dc990"/><stop offset="0.750" stop-color="#66cd6d"/><stop offset="0.792" stop-color="#8ccb50"/><stop offset="0.833" stop-color="#81cc59"/><stop offset="0.875" stop-color="#67cd6c"/><stop offset="0.917" stop-color="#73cd63"/><stop offset="0.958" stop-color="#49cb85"/><stop offset="1.000" stop-color="#41ca8c"/></linearGradient><linearGradient id="g24" gradientUnits="userSpaceOnUse" x1="290" x2="560" y1="0" y2="0"><stop offset="0.000" stop-color="#34c79c"/><stop offset="0.042" stop-color="#36c799"/><stop offset="0.083" stop-color="#37c897"/><stop offset="0.125" stop-color="#27c2ab"/><stop offset="0.167" stop-color="#4fcc80"/><stop offset="0.208" stop-color="#48cb86"/><stop offset="0.250" stop-color="#45cb89"/><stop offset="0.292" stop-color="#54cc7c"/><stop offset="0.333" stop-color="#8acb51"/><stop offset="0.375" stop-color="#35c79a"/><stop offset="0.417" stop-color="#31c6a0"/><stop offset="0.458" stop-color="#63cd70"/><stop offset="0.500" stop-color="#37c898"/><stop offset="0.542" stop-color="#63cd70"/><stop offset="0.583" stop-color="#2dc4a5"/><stop offset="0.625" stop-color="#30c5a1"/><stop offset="0.667" stop-color="#40ca8d"/><stop offset="0.708" stop-color="#4acb84"/><stop offset="0.750" stop-color="#46cb87"/><stop offset="0.792" stop-color="#4fcc80"/><stop offset="0.833" stop-color="#48cb86"/><stop offset="0.875" stop-color="#44cb89"/><stop offset="0.917" stop-color="#4acb84"/><stop offset="0.958" stop-color="#75cc61"/><stop offset="1.000" stop-color="#63cd6f"/></linearGradient><linearGradient id="g25" gradientUnits="userSpaceOnUse" x1="380" x2="600" y1="0" y2="0"><stop offset="0.000" stop-color="#0abdbd"/><stop offset="0.050" stop-color="#1dc0b3"/><stop offset="0.100" stop-color="#2ec4a5"/><stop offset="0.150" stop-color="#36c898"/><stop offset="0.200" stop-color="#2ac3a8"/><stop offset="0.250" stop-color="#30c5a1"/><stop offset="0.300" stop-color="#3ac994"/><stop offset="0.350" stop-color="#7fcc5a"/><stop offset="0.400" stop-color="#42ca8b"/><stop offset="0.450" stop-color="#65cd6e"/><stop offset="0.500" stop-color="#2fc5a3"/><stop offset="0.550" stop-color="#67cd6c"/><stop offset="0.600" stop-color="#2fc5a3"/><stop offset="0.650" stop-color="#2fc5a2"/><stop offset="0.700" stop-color="#31c6a0"/><stop offset="0.750" stop-color="#33c69d"/><stop offset="0.800" stop-color="#32c69e"/><stop offset="0.850" stop-color="#2fc5a3"/><stop offset="0.900" stop-color="#26c2ac"/><stop offset="0.950" stop-color="#0abdbd"/><stop offset="1.000" stop-color="#3bc992"/></linearGradient><linearGradient id="g26" gradientUnits="userSpaceOnUse" x1="240" x2="560" y1="0" y2="0"><stop offset="0.000" stop-color="#18aedb"/><stop offset="0.034" stop-color="#14b0d8"/><stop offset="0.069" stop-color="#01b9c6"/><stop offset="0.103" stop-color="#0eb2d4"/><stop offset="0.138" stop-color="#15afd9"/><stop offset="0.172" stop-color="#19addc"/><stop offset="0.207" stop-color="#02bac4"/><stop offset="0.241" stop-color="#1ea7e1"/><stop offset="0.276" stop-color="#19acdc"/><stop offset="0.310" stop-color="#01b8c8"/><stop offset="0.345" stop-color="#1aabdd"/><stop offset="0.379" stop-color="#01b8c8"/><stop offset="0.414" stop-color="#2dc4a5"/><stop offset="0.448" stop-color="#13beb8"/><stop offset="0.483" stop-color="#2ac3a9"/><stop offset="0.517" stop-color="#36c799"/><stop offset="0.552" stop-color="#1ec0b2"/><stop offset="0.586" stop-color="#33c79d"/><stop offset="0.621" stop-color="#1fc0b2"/><stop offset="0.655" stop-color="#08bcbf"/><stop offset="0.690" stop-color="#14bfb8"/><stop offset="0.724" stop-color="#10beba"/><stop offset="0.759" stop-color="#01bac5"/><stop offset="0.793" stop-color="#09b4d1"/><stop offset="0.828" stop-color="#03bbc2"/><stop offset="0.862" stop-color="#01b9c8"/><stop offset="0.897" stop-color="#13b0d7"/><stop offset="0.931" stop-color="#15afd9"/><stop offset="0.966" stop-color="#15afd9"/><stop offset="1.000" stop-color="#01b8c9"/></linearGradient><linearGradient id="g27" gradientUnits="userSpaceOnUse" x1="280" x2="565" y1="0" y2="0"><stop offset="0.000" stop-color="#05b6cd"/><stop offset="0.040" stop-color="#1ac0b4"/><stop offset="0.080" stop-color="#2fc5a3"/><stop offset="0.120" stop-color="#34c79c"/><stop offset="0.160" stop-color="#2dc4a6"/><stop offset="0.200" stop-color="#2dc4a5"/><stop offset="0.240" stop-color="#38c896"/><stop offset="0.280" stop-color="#3cc992"/><stop offset="0.320" stop-color="#4dcc82"/><stop offset="0.360" stop-color="#6ecd67"/><stop offset="0.400" stop-color="#3cc991"/><stop offset="0.440" stop-color="#8bcb51"/><stop offset="0.480" stop-color="#23c1af"/><stop offset="0.520" stop-color="#24c2ae"/><stop offset="0.560" stop-color="#24c1ae"/><stop offset="0.600" stop-color="#28c3ab"/><stop offset="0.640" stop-color="#31c6a0"/><stop offset="0.680" stop-color="#6bcd69"/><stop offset="0.720" stop-color="#32c69f"/><stop offset="0.760" stop-color="#5fcd73"/><stop offset="0.800" stop-color="#3fca8e"/><stop offset="0.840" stop-color="#53cc7d"/><stop offset="0.880" stop-color="#34c79c"/><stop offset="0.920" stop-color="#7ecc5b"/><stop offset="0.960" stop-color="#37c897"/><stop offset="1.000" stop-color="#2bc3a8"/></linearGradient><linearGradient id="g28" gradientUnits="userSpaceOnUse" x1="210" x2="570" y1="0" y2="0"><stop offset="0.000" stop-color="#95ca49"/><stop offset="0.031" stop-color="#4dcc82"/><stop offset="0.062" stop-color="#4ccb83"/><stop offset="0.094" stop-color="#3ac994"/><stop offset="0.125" stop-color="#2dc4a5"/><stop offset="0.156" stop-color="#1dc0b3"/><stop offset="0.188" stop-color="#33c69d"/><stop offset="0.219" stop-color="#61cd71"/><stop offset="0.250" stop-color="#48cb86"/><stop offset="0.281" stop-color="#40ca8d"/><stop offset="0.312" stop-color="#69cd6b"/><stop offset="0.344" stop-color="#3ac993"/><stop offset="0.375" stop-color="#78cc5f"/><stop offset="0.406" stop-color="#4fcc80"/><stop offset="0.438" stop-color="#3cc991"/><stop offset="0.469" stop-color="#63cd70"/><stop offset="0.500" stop-color="#5ecd74"/><stop offset="0.531" stop-color="#40ca8d"/><stop offset="0.562" stop-color="#47cb87"/><stop offset="0.594" stop-color="#54cc7c"/><stop offset="0.625" stop-color="#59cc79"/><stop offset="0.656" stop-color="#29c3aa"/><stop offset="0.688" stop-color="#02bac4"/><stop offset="0.719" stop-color="#6ecd67"/><stop offset="0.750" stop-color="#39c994"/><stop offset="0.781" stop-color="#3bc992"/><stop offset="0.812" stop-color="#57cc7a"/><stop offset="0.844" stop-color="#42ca8b"/><stop offset="0.875" stop-color="#63cd70"/><stop offset="0.906" stop-color="#2ec4a5"/><stop offset="0.938" stop-color="#37c897"/><stop offset="0.969" stop-color="#25c2ae"/><stop offset="1.000" stop-color="#52cc7e"/></linearGradient><linearGradient id="g29" gradientUnits="userSpaceOnUse" x1="250" x2="600" y1="0" y2="0"><stop offset="0.000" stop-color="#30c5a1"/><stop offset="0.032" stop-color="#4ecc82"/><stop offset="0.065" stop-color="#5dcc75"/><stop offset="0.097" stop-color="#2ec5a4"/><stop offset="0.129" stop-color="#41ca8c"/><stop offset="0.161" stop-color="#61cd71"/><stop offset="0.194" stop-color="#51cc7f"/><stop offset="0.226" stop-color="#4ccb83"/><stop offset="0.258" stop-color="#67cd6c"/><stop offset="0.290" stop-color="#6acd6a"/><stop offset="0.323" stop-color="#40ca8d"/><stop offset="0.355" stop-color="#50cc7f"/><stop offset="0.387" stop-color="#74cc62"/><stop offset="0.419" stop-color="#74cd62"/><stop offset="0.452" stop-color="#80cc59"/><stop offset="0.484" stop-color="#65cd6e"/><stop offset="0.516" stop-color="#c8c129"/><stop offset="0.548" stop-color="#80cc59"/><stop offset="0.581" stop-color="#82cc58"/><stop offset="0.613" stop-color="#6bcd69"/><stop offset="0.645" stop-color="#61cd72"/><stop offset="0.677" stop-color="#57cc7a"/><stop offset="0.710" stop-color="#3cc992"/><stop offset="0.742" stop-color="#5acc77"/><stop offset="0.774" stop-color="#73cd63"/><stop offset="0.806" stop-color="#5bcc77"/><stop offset="0.839" stop-color="#64cd6f"/><stop offset="0.871" stop-color="#59cc78"/><stop offset="0.903" stop-color="#44cb89"/><stop offset="0.935" stop-color="#6dcd67"/><stop offset="0.968" stop-color="#2fc5a3"/><stop offset="1.000" stop-color="#38c896"/></linearGradient><linearGradient id="g30" gradientUnits="userSpaceOnUse" x1="320" x2="600" y1="0" y2="0"><stop offset="0.000" stop-color="#6dcd67"/><stop offset="0.040" stop-color="#64cd6f"/><stop offset="0.080" stop-color="#4acb84"/><stop offset="0.120" stop-color="#55cc7b"/><stop offset="0.160" stop-color="#b4c534"/><stop offset="0.200" stop-color="#72cd63"/><stop offset="0.240" stop-color="#8ecb4f"/><stop offset="0.280" stop-color="#91ca4c"/><stop offset="0.320" stop-color="#74cc62"/><stop offset="0.360" stop-color="#38c896"/><stop offset="0.400" stop-color="#31c6a0"/><stop offset="0.440" stop-color="#4dcb82"/><stop offset="0.480" stop-color="#3dc990"/><stop offset="0.520" stop-color="#49cb86"/><stop offset="0.560" stop-color="#52cc7e"/><stop offset="0.600" stop-color="#54cc7c"/><stop offset="0.640" stop-color="#34c79b"/><stop offset="0.680" stop-color="#35c79a"/><stop offset="0.720" stop-color="#85cb55"/><stop offset="0.760" stop-color="#61cd71"/><stop offset="0.800" stop-color="#5ecd74"/><stop offset="0.840" stop-color="#53cc7d"/><stop offset="0.880" stop-color="#9bc944"/><stop offset="0.920" stop-color="#50cc7f"/><stop offset="0.960" stop-color="#45cb89"/><stop offset="1.000" stop-color="#61cd71"/></linearGradient><linearGradient id="g31" gradientUnits="userSpaceOnUse" x1="230" x2="520" y1="0" y2="0"><stop offset="0.000" stop-color="#12beb9"/><stop offset="0.038" stop-color="#23c1af"/><stop offset="0.077" stop-color="#02bac5"/><stop offset="0.115" stop-color="#11b1d6"/><stop offset="0.154" stop-color="#18bfb6"/><stop offset="0.192" stop-color="#2ec4a5"/><stop offset="0.231" stop-color="#26c2ac"/><stop offset="0.269" stop-color="#37c898"/><stop offset="0.308" stop-color="#2bc3a8"/><stop offset="0.346" stop-color="#02bbc3"/><stop offset="0.385" stop-color="#21c1b0"/><stop offset="0.423" stop-color="#09bcbe"/><stop offset="0.462" stop-color="#09bdbe"/><stop offset="0.500" stop-color="#32c69e"/><stop offset="0.538" stop-color="#02bac4"/><stop offset="0.577" stop-color="#3cc992"/><stop offset="0.615" stop-color="#45cb89"/><stop offset="0.654" stop-color="#0fbebb"/><stop offset="0.692" stop-color="#37c897"/><stop offset="0.731" stop-color="#3cc992"/><stop offset="0.769" stop-color="#32c69f"/><stop offset="0.808" stop-color="#3eca8f"/><stop offset="0.846" stop-color="#3ac994"/><stop offset="0.885" stop-color="#45cb89"/><stop offset="0.923" stop-color="#34c79c"/><stop offset="0.962" stop-color="#0fbebb"/><stop offset="1.000" stop-color="#49cb85"/></linearGradient><linearGradient id="g32" gradientUnits="userSpaceOnUse" x1="420" x2="612" y1="0" y2="0"><stop offset="0.000" stop-color="#42ca8c"/><stop offset="0.059" stop-color="#2cc4a7"/><stop offset="0.118" stop-color="#4fcc80"/><stop offset="0.176" stop-color="#79cc5e"/><stop offset="0.235" stop-color="#2dc4a5"/><stop offset="0.294" stop-color="#43ca8b"/><stop offset="0.353" stop-color="#49cb85"/><stop offset="0.412" stop-color="#75cc61"/><stop offset="0.471" stop-color="#68cd6b"/><stop offset="0.529" stop-color="#55cc7c"/><stop offset="0.588" stop-color="#b4c534"/><stop offset="0.647" stop-color="#86cb55"/><stop offset="0.706" stop-color="#96ca48"/><stop offset="0.765" stop-color="#b6c532"/><stop offset="0.824" stop-color="#4acb84"/><stop offset="0.882" stop-color="#45cb88"/><stop offset="0.941" stop-color="#56cc7b"/><stop offset="1.000" stop-color="#32c69f"/></linearGradient><linearGradient id="g33" gradientUnits="userSpaceOnUse" x1="380" x2="590" y1="0" y2="0"><stop offset="0.000" stop-color="#5ecd74"/><stop offset="0.053" stop-color="#61cd71"/><stop offset="0.105" stop-color="#cac129"/><stop offset="0.158" stop-color="#9ec943"/><stop offset="0.211" stop-color="#b0c636"/><stop offset="0.263" stop-color="#cec028"/><stop offset="0.316" stop-color="#f2ba37"/><stop offset="0.368" stop-color="#e0bc2a"/><stop offset="0.421" stop-color="#fabb3d"/><stop offset="0.474" stop-color="#fec736"/><stop offset="0.526" stop-color="#e9bb30"/><stop offset="0.579" stop-color="#febe3c"/><stop offset="0.632" stop-color="#efba35"/><stop offset="0.684" stop-color="#d0bf27"/><stop offset="0.737" stop-color="#f7ba3c"/><stop offset="0.789" stop-color="#a4c83e"/><stop offset="0.842" stop-color="#66cd6d"/><stop offset="0.895" stop-color="#36c898"/><stop offset="0.947" stop-color="#3cc991"/><stop offset="1.000" stop-color="#2fc5a2"/></linearGradient><linearGradient id="g34" gradientUnits="userSpaceOnUse" x1="224" x2="522" y1="0" y2="0"><stop offset="0.000" stop-color="#2f80fa"/><stop offset="0.037" stop-color="#2e84f8"/><stop offset="0.074" stop-color="#249ee6"/><stop offset="0.111" stop-color="#2b91ef"/><stop offset="0.148" stop-color="#2895ec"/><stop offset="0.185" stop-color="#2b92ef"/><stop offset="0.222" stop-color="#22a1e4"/><stop offset="0.259" stop-color="#3579fd"/><stop offset="0.296" stop-color="#3d70ff"/><stop offset="0.333" stop-color="#2e84f8"/><stop offset="0.370" stop-color="#2e85f8"/><stop offset="0.407" stop-color="#2895ec"/><stop offset="0.444" stop-color="#20a4e3"/><stop offset="0.481" stop-color="#13b0d8"/><stop offset="0.519" stop-color="#01b8ca"/><stop offset="0.556" stop-color="#1aacdd"/><stop offset="0.593" stop-color="#1da8e0"/><stop offset="0.630" stop-color="#09b4d1"/><stop offset="0.667" stop-color="#1ea7e1"/><stop offset="0.704" stop-color="#1ca9e0"/><stop offset="0.741" stop-color="#05b6cd"/><stop offset="0.778" stop-color="#1da8e0"/><stop offset="0.815" stop-color="#35c79a"/><stop offset="0.852" stop-color="#1ec0b2"/><stop offset="0.889" stop-color="#32c69e"/><stop offset="0.926" stop-color="#37c897"/><stop offset="0.963" stop-color="#39c895"/><stop offset="1.000" stop-color="#1cc0b3"/></linearGradient><linearGradient id="g35" gradientUnits="userSpaceOnUse" x1="161" x2="508" y1="0" y2="0"><stop offset="0.000" stop-color="#01b8c9"/><stop offset="0.032" stop-color="#15afd9"/><stop offset="0.065" stop-color="#19addc"/><stop offset="0.097" stop-color="#1ac0b4"/><stop offset="0.129" stop-color="#249de6"/><stop offset="0.161" stop-color="#13b1d7"/><stop offset="0.194" stop-color="#1ca9df"/><stop offset="0.226" stop-color="#259be8"/><stop offset="0.258" stop-color="#07b5d0"/><stop offset="0.290" stop-color="#2e86f7"/><stop offset="0.323" stop-color="#2d8df2"/><stop offset="0.355" stop-color="#2f80fa"/><stop offset="0.387" stop-color="#2e84f9"/><stop offset="0.419" stop-color="#3975fe"/><stop offset="0.452" stop-color="#2b92ef"/><stop offset="0.484" stop-color="#2e85f8"/><stop offset="0.516" stop-color="#3d70ff"/><stop offset="0.548" stop-color="#3c71ff"/><stop offset="0.581" stop-color="#2d8cf3"/><stop offset="0.613" stop-color="#2d88f6"/><stop offset="0.645" stop-color="#1fa5e2"/><stop offset="0.677" stop-color="#18aedb"/><stop offset="0.710" stop-color="#1baade"/><stop offset="0.742" stop-color="#22a2e4"/><stop offset="0.774" stop-color="#19addc"/><stop offset="0.806" stop-color="#08bcbf"/><stop offset="0.839" stop-color="#02bac5"/><stop offset="0.871" stop-color="#31c6a0"/><stop offset="0.903" stop-color="#02bac4"/><stop offset="0.935" stop-color="#15bfb7"/><stop offset="0.968" stop-color="#1dc0b3"/><stop offset="1.000" stop-color="#0cbdbc"/></linearGradient><linearGradient id="g36" gradientUnits="userSpaceOnUse" x1="178" x2="562" y1="0" y2="0"><stop offset="0.000" stop-color="#19addc"/><stop offset="0.029" stop-color="#0db3d3"/><stop offset="0.059" stop-color="#1da9e0"/><stop offset="0.088" stop-color="#18addb"/><stop offset="0.118" stop-color="#1ea7e1"/><stop offset="0.147" stop-color="#01b9c6"/><stop offset="0.176" stop-color="#1aacdd"/><stop offset="0.206" stop-color="#11b1d6"/><stop offset="0.235" stop-color="#2c8ff0"/><stop offset="0.265" stop-color="#13b0d7"/><stop offset="0.294" stop-color="#11b1d6"/><stop offset="0.324" stop-color="#0dbdbb"/><stop offset="0.353" stop-color="#0cbdbc"/><stop offset="0.382" stop-color="#09bcbe"/><stop offset="0.412" stop-color="#28c2ab"/><stop offset="0.441" stop-color="#3eca8f"/><stop offset="0.471" stop-color="#4dcb82"/><stop offset="0.500" stop-color="#34c79c"/><stop offset="0.529" stop-color="#5fcd73"/><stop offset="0.559" stop-color="#3cc991"/><stop offset="0.588" stop-color="#61cd71"/><stop offset="0.618" stop-color="#3bc992"/><stop offset="0.647" stop-color="#6ecd66"/><stop offset="0.676" stop-color="#97ca47"/><stop offset="0.706" stop-color="#48cb86"/><stop offset="0.735" stop-color="#74cc62"/><stop offset="0.765" stop-color="#2ec5a3"/><stop offset="0.794" stop-color="#33c79d"/><stop offset="0.824" stop-color="#7bcc5d"/><stop offset="0.853" stop-color="#2fc5a3"/><stop offset="0.882" stop-color="#2ec5a4"/><stop offset="0.912" stop-color="#05b6ce"/><stop offset="0.941" stop-color="#0abdbe"/><stop offset="0.971" stop-color="#01b8c9"/><stop offset="1.000" stop-color="#28c3ab"/></linearGradient><linearGradient id="g37" gradientUnits="userSpaceOnUse" x1="260" x2="573" y1="0" y2="0"><stop offset="0.000" stop-color="#20a5e2"/><stop offset="0.036" stop-color="#0abdbe"/><stop offset="0.071" stop-color="#249fe5"/><stop offset="0.107" stop-color="#19addc"/><stop offset="0.143" stop-color="#2895ec"/><stop offset="0.179" stop-color="#1fa6e2"/><stop offset="0.214" stop-color="#09b4d1"/><stop offset="0.250" stop-color="#21a3e3"/><stop offset="0.286" stop-color="#2c8ef2"/><stop offset="0.321" stop-color="#2699e9"/><stop offset="0.357" stop-color="#2895ec"/><stop offset="0.393" stop-color="#2e87f7"/><stop offset="0.429" stop-color="#2d8df2"/><stop offset="0.464" stop-color="#3f6eff"/><stop offset="0.500" stop-color="#2797eb"/><stop offset="0.536" stop-color="#2e85f8"/><stop offset="0.571" stop-color="#484bef"/><stop offset="0.607" stop-color="#3974fe"/><stop offset="0.643" stop-color="#4756f7"/><stop offset="0.679" stop-color="#4562fc"/><stop offset="0.714" stop-color="#4746ea"/><stop offset="0.750" stop-color="#4561fc"/><stop offset="0.786" stop-color="#475cfa"/><stop offset="0.821" stop-color="#2d8af5"/><stop offset="0.857" stop-color="#307ffb"/><stop offset="0.893" stop-color="#3875fe"/><stop offset="0.929" stop-color="#317dfc"/><stop offset="0.964" stop-color="#2c8ff1"/><stop offset="1.000" stop-color="#3677fe"/></linearGradient><linearGradient id="g38" gradientUnits="userSpaceOnUse" x1="400" x2="610" y1="0" y2="0"><stop offset="0.000" stop-color="#15afd9"/><stop offset="0.053" stop-color="#249ee6"/><stop offset="0.105" stop-color="#2699e9"/><stop offset="0.158" stop-color="#1fa5e2"/><stop offset="0.211" stop-color="#1ea7e1"/><stop offset="0.263" stop-color="#1da8e0"/><stop offset="0.316" stop-color="#1ea7e1"/><stop offset="0.368" stop-color="#2b90ef"/><stop offset="0.421" stop-color="#2d87f6"/><stop offset="0.474" stop-color="#2d8bf4"/><stop offset="0.526" stop-color="#2e87f7"/><stop offset="0.579" stop-color="#2f81fa"/><stop offset="0.632" stop-color="#2e84f8"/><stop offset="0.684" stop-color="#4464fd"/><stop offset="0.737" stop-color="#337afd"/><stop offset="0.789" stop-color="#406cfe"/><stop offset="0.842" stop-color="#317dfc"/><stop offset="0.895" stop-color="#2d8cf3"/><stop offset="0.947" stop-color="#416bfe"/><stop offset="1.000" stop-color="#2d8cf3"/></linearGradient><linearGradient id="g39" gradientUnits="userSpaceOnUse" x1="174" x2="556" y1="0" y2="0"><stop offset="0.000" stop-color="#41ca8c"/><stop offset="0.029" stop-color="#4acb85"/><stop offset="0.059" stop-color="#44ca8a"/><stop offset="0.088" stop-color="#64cd6f"/><stop offset="0.118" stop-color="#3fca8e"/><stop offset="0.147" stop-color="#28c3aa"/><stop offset="0.176" stop-color="#4dcc82"/><stop offset="0.206" stop-color="#3bc992"/><stop offset="0.235" stop-color="#46cb88"/><stop offset="0.265" stop-color="#3fca8f"/><stop offset="0.294" stop-color="#23c1af"/><stop offset="0.324" stop-color="#3cc991"/><stop offset="0.353" stop-color="#40ca8d"/><stop offset="0.382" stop-color="#42ca8b"/><stop offset="0.412" stop-color="#4ecc81"/><stop offset="0.441" stop-color="#58cc79"/><stop offset="0.471" stop-color="#41ca8c"/><stop offset="0.500" stop-color="#4bcb83"/><stop offset="0.529" stop-color="#6ccd68"/><stop offset="0.559" stop-color="#38c896"/><stop offset="0.588" stop-color="#4acb84"/><stop offset="0.618" stop-color="#33c69d"/><stop offset="0.647" stop-color="#2fc5a3"/><stop offset="0.676" stop-color="#33c79c"/><stop offset="0.706" stop-color="#37c897"/><stop offset="0.735" stop-color="#4dcb82"/><stop offset="0.765" stop-color="#27c2ab"/><stop offset="0.794" stop-color="#31c6a0"/><stop offset="0.824" stop-color="#24c2ae"/><stop offset="0.853" stop-color="#0cbdbc"/><stop offset="0.882" stop-color="#259de7"/><stop offset="0.912" stop-color="#0ab4d2"/><stop offset="0.941" stop-color="#19addc"/><stop offset="0.971" stop-color="#1baadf"/><stop offset="1.000" stop-color="#0dbdbb"/></linearGradient><linearGradient id="g40" gradientUnits="userSpaceOnUse" x1="166" x2="545" y1="0" y2="0"><stop offset="0.000" stop-color="#7ccc5c"/><stop offset="0.029" stop-color="#40ca8d"/><stop offset="0.059" stop-color="#60cd72"/><stop offset="0.088" stop-color="#9ec942"/><stop offset="0.118" stop-color="#5bcc77"/><stop offset="0.147" stop-color="#60cd72"/><stop offset="0.176" stop-color="#6fcd66"/><stop offset="0.206" stop-color="#6bcd69"/><stop offset="0.235" stop-color="#73cd62"/><stop offset="0.265" stop-color="#65cd6e"/><stop offset="0.294" stop-color="#97ca48"/><stop offset="0.324" stop-color="#5bcc77"/><stop offset="0.353" stop-color="#35c79b"/><stop offset="0.382" stop-color="#46cb88"/><stop offset="0.412" stop-color="#53cc7e"/><stop offset="0.441" stop-color="#42ca8b"/><stop offset="0.471" stop-color="#11beba"/><stop offset="0.500" stop-color="#3bc993"/><stop offset="0.529" stop-color="#2fc5a3"/><stop offset="0.559" stop-color="#3cc992"/><stop offset="0.588" stop-color="#71cd64"/><stop offset="0.618" stop-color="#4bcb84"/><stop offset="0.647" stop-color="#39c895"/><stop offset="0.676" stop-color="#3dc990"/><stop offset="0.706" stop-color="#31c6a0"/><stop offset="0.735" stop-color="#65cd6e"/><stop offset="0.765" stop-color="#44cb89"/><stop offset="0.794" stop-color="#4fcc81"/><stop offset="0.824" stop-color="#35c79b"/><stop offset="0.853" stop-color="#3ac994"/><stop offset="0.882" stop-color="#56cc7a"/><stop offset="0.912" stop-color="#22c1b0"/><stop offset="0.941" stop-color="#58cc79"/><stop offset="0.971" stop-color="#26c2ad"/><stop offset="1.000" stop-color="#34c79b"/></linearGradient><linearGradient id="g41" gradientUnits="userSpaceOnUse" x1="166" x2="446" y1="0" y2="0"><stop offset="0.000" stop-color="#59cc78"/><stop offset="0.040" stop-color="#59cc79"/><stop offset="0.080" stop-color="#9fc941"/><stop offset="0.120" stop-color="#acc739"/><stop offset="0.160" stop-color="#cdc028"/><stop offset="0.200" stop-color="#a2c83f"/><stop offset="0.240" stop-color="#cbc129"/><stop offset="0.280" stop-color="#a4c83e"/><stop offset="0.320" stop-color="#83cc57"/><stop offset="0.360" stop-color="#82cc58"/><stop offset="0.400" stop-color="#4dcc82"/><stop offset="0.440" stop-color="#94ca4a"/><stop offset="0.480" stop-color="#7bcc5d"/><stop offset="0.520" stop-color="#8bcb51"/><stop offset="0.560" stop-color="#9bc945"/><stop offset="0.600" stop-color="#3ac994"/><stop offset="0.640" stop-color="#66cd6d"/><stop offset="0.680" stop-color="#37c897"/><stop offset="0.720" stop-color="#2fc5a2"/><stop offset="0.760" stop-color="#28c2ab"/><stop offset="0.800" stop-color="#3bc992"/><stop offset="0.840" stop-color="#37c897"/><stop offset="0.880" stop-color="#3dc990"/><stop offset="0.920" stop-color="#31c69f"/><stop offset="0.960" stop-color="#53cc7e"/><stop offset="1.000" stop-color="#30c5a2"/></linearGradient><linearGradient id="g42" gradientUnits="userSpaceOnUse" x1="219" x2="614" y1="0" y2="0"><stop offset="0.000" stop-color="#a3c83f"/><stop offset="0.029" stop-color="#82cc58"/><stop offset="0.057" stop-color="#83cc57"/><stop offset="0.086" stop-color="#3eca8f"/><stop offset="0.114" stop-color="#48cb86"/><stop offset="0.143" stop-color="#4acb85"/><stop offset="0.171" stop-color="#3fca8e"/><stop offset="0.200" stop-color="#3fca8e"/><stop offset="0.229" stop-color="#32c69e"/><stop offset="0.257" stop-color="#54cc7c"/><stop offset="0.286" stop-color="#60cd72"/><stop offset="0.314" stop-color="#28c3aa"/><stop offset="0.343" stop-color="#42ca8c"/><stop offset="0.371" stop-color="#2ac3a9"/><stop offset="0.400" stop-color="#33c69e"/><stop offset="0.429" stop-color="#3fca8e"/><stop offset="0.457" stop-color="#53cc7d"/><stop offset="0.486" stop-color="#5ccc75"/><stop offset="0.514" stop-color="#2dc4a6"/><stop offset="0.543" stop-color="#34c79b"/><stop offset="0.571" stop-color="#52cc7e"/><stop offset="0.600" stop-color="#50cc7f"/><stop offset="0.629" stop-color="#a9c73a"/><stop offset="0.657" stop-color="#6dcd67"/><stop offset="0.686" stop-color="#72cd64"/><stop offset="0.714" stop-color="#b9c431"/><stop offset="0.743" stop-color="#3ac994"/><stop offset="0.771" stop-color="#3fca8e"/><stop offset="0.800" stop-color="#b8c531"/><stop offset="0.829" stop-color="#44cb8a"/><stop offset="0.857" stop-color="#38c896"/><stop offset="0.886" stop-color="#16bfb7"/><stop offset="0.914" stop-color="#15afd9"/><stop offset="0.943" stop-color="#1ea6e1"/><stop offset="0.971" stop-color="#2e87f7"/><stop offset="1.000" stop-color="#2d8df2"/></linearGradient><linearGradient id="g43" gradientUnits="userSpaceOnUse" x1="206" x2="614" y1="0" y2="0"><stop offset="0.000" stop-color="#12b1d7"/><stop offset="0.027" stop-color="#14b0d8"/><stop offset="0.054" stop-color="#23a1e4"/><stop offset="0.081" stop-color="#2896eb"/><stop offset="0.108" stop-color="#2699ea"/><stop offset="0.135" stop-color="#3777fe"/><stop offset="0.162" stop-color="#2b91ef"/><stop offset="0.189" stop-color="#2e87f7"/><stop offset="0.216" stop-color="#259be8"/><stop offset="0.243" stop-color="#1aabdd"/><stop offset="0.270" stop-color="#17aedb"/><stop offset="0.297" stop-color="#1babde"/><stop offset="0.324" stop-color="#249de6"/><stop offset="0.351" stop-color="#21a3e3"/><stop offset="0.378" stop-color="#09bcbe"/><stop offset="0.405" stop-color="#01bac5"/><stop offset="0.432" stop-color="#11b1d6"/><stop offset="0.459" stop-color="#2ec4a5"/><stop offset="0.486" stop-color="#07bcbf"/><stop offset="0.514" stop-color="#0abdbe"/><stop offset="0.541" stop-color="#01b8ca"/><stop offset="0.568" stop-color="#2dc4a6"/><stop offset="0.595" stop-color="#0cbdbc"/><stop offset="0.622" stop-color="#01b9c6"/><stop offset="0.649" stop-color="#15afd9"/><stop offset="0.676" stop-color="#1ea7e1"/><stop offset="0.703" stop-color="#16afd9"/><stop offset="0.730" stop-color="#1caadf"/><stop offset="0.757" stop-color="#04b6cc"/><stop offset="0.784" stop-color="#23a1e4"/><stop offset="0.811" stop-color="#1fa6e1"/><stop offset="0.838" stop-color="#0eb2d4"/><stop offset="0.865" stop-color="#12b1d6"/><stop offset="0.892" stop-color="#21a3e3"/><stop offset="0.919" stop-color="#05b6ce"/><stop offset="0.946" stop-color="#1aacdd"/><stop offset="0.973" stop-color="#249fe6"/><stop offset="1.000" stop-color="#2e86f8"/></linearGradient><linearGradient id="g44" gradientUnits="userSpaceOnUse" x1="225" x2="621" y1="0" y2="0"><stop offset="0.000" stop-color="#f9fb15"/><stop offset="0.028" stop-color="#f5ea24"/><stop offset="0.056" stop-color="#f5e526"/><stop offset="0.083" stop-color="#f9d82c"/><stop offset="0.111" stop-color="#fec239"/><stop offset="0.139" stop-color="#fec239"/><stop offset="0.167" stop-color="#fdcc32"/><stop offset="0.194" stop-color="#fec03b"/><stop offset="0.222" stop-color="#fec239"/><stop offset="0.250" stop-color="#c2c32c"/><stop offset="0.278" stop-color="#cac129"/><stop offset="0.306" stop-color="#c8c129"/><stop offset="0.333" stop-color="#67cd6c"/><stop offset="0.361" stop-color="#4fcc81"/><stop offset="0.389" stop-color="#56cc7b"/><stop offset="0.417" stop-color="#4ccb83"/><stop offset="0.444" stop-color="#68cd6b"/><stop offset="0.472" stop-color="#5dcc75"/><stop offset="0.500" stop-color="#4ecc81"/><stop offset="0.528" stop-color="#84cc56"/><stop offset="0.556" stop-color="#66cd6d"/><stop offset="0.583" stop-color="#6acd6a"/><stop offset="0.611" stop-color="#9bc944"/><stop offset="0.639" stop-color="#9ec942"/><stop offset="0.667" stop-color="#75cc61"/><stop offset="0.694" stop-color="#4bcb84"/><stop offset="0.722" stop-color="#4dcb82"/><stop offset="0.750" stop-color="#59cc78"/><stop offset="0.778" stop-color="#7acc5e"/><stop offset="0.806" stop-color="#b0c636"/><stop offset="0.833" stop-color="#88cb53"/><stop offset="0.861" stop-color="#8fcb4e"/><stop offset="0.889" stop-color="#53cc7d"/><stop offset="0.917" stop-color="#bcc42f"/><stop offset="0.944" stop-color="#b2c635"/><stop offset="0.972" stop-color="#73cd63"/><stop offset="1.000" stop-color="#3eca8f"/></linearGradient><linearGradient id="g45" gradientUnits="userSpaceOnUse" x1="197" x2="589" y1="0" y2="0"><stop offset="0.000" stop-color="#2c8ff1"/><stop offset="0.029" stop-color="#13b0d7"/><stop offset="0.057" stop-color="#22a2e4"/><stop offset="0.086" stop-color="#04b6cd"/><stop offset="0.114" stop-color="#05b6ce"/><stop offset="0.143" stop-color="#1abfb5"/><stop offset="0.171" stop-color="#07bcc0"/><stop offset="0.200" stop-color="#28c2ab"/><stop offset="0.229" stop-color="#0ab4d2"/><stop offset="0.257" stop-color="#2cc4a7"/><stop offset="0.286" stop-color="#02bac5"/><stop offset="0.314" stop-color="#18addb"/><stop offset="0.343" stop-color="#15afd9"/><stop offset="0.371" stop-color="#20a4e3"/><stop offset="0.400" stop-color="#17aeda"/><stop offset="0.429" stop-color="#1baade"/><stop offset="0.457" stop-color="#1babde"/><stop offset="0.486" stop-color="#03b7cc"/><stop offset="0.514" stop-color="#03bbc2"/><stop offset="0.543" stop-color="#0fbeba"/><stop offset="0.571" stop-color="#1dc0b3"/><stop offset="0.600" stop-color="#29c3aa"/><stop offset="0.629" stop-color="#15bfb7"/><stop offset="0.657" stop-color="#31c6a0"/><stop offset="0.686" stop-color="#13b0d7"/><stop offset="0.714" stop-color="#25c2ae"/><stop offset="0.743" stop-color="#39c994"/><stop offset="0.771" stop-color="#1cc0b3"/><stop offset="0.800" stop-color="#34c79b"/><stop offset="0.829" stop-color="#40ca8d"/><stop offset="0.857" stop-color="#2bc3a8"/><stop offset="0.886" stop-color="#3dca90"/><stop offset="0.914" stop-color="#60cd72"/><stop offset="0.943" stop-color="#47cb87"/><stop offset="0.971" stop-color="#7ecc5b"/><stop offset="1.000" stop-color="#98c947"/></linearGradient><linearGradient id="g46" gradientUnits="userSpaceOnUse" x1="450" x2="634" y1="0" y2="0"><stop offset="0.000" stop-color="#08bcbf"/><stop offset="0.062" stop-color="#11b1d6"/><stop offset="0.125" stop-color="#06b5cf"/><stop offset="0.188" stop-color="#19acdc"/><stop offset="0.250" stop-color="#249ee6"/><stop offset="0.312" stop-color="#1fa6e2"/><stop offset="0.375" stop-color="#1fa5e2"/><stop offset="0.438" stop-color="#1ea7e1"/><stop offset="0.500" stop-color="#0fb2d5"/><stop offset="0.562" stop-color="#12b1d6"/><stop offset="0.625" stop-color="#22a2e4"/><stop offset="0.688" stop-color="#2b90f0"/><stop offset="0.750" stop-color="#2c8ff1"/><stop offset="0.812" stop-color="#2f82fa"/><stop offset="0.875" stop-color="#2e84f8"/><stop offset="0.938" stop-color="#3975fe"/><stop offset="1.000" stop-color="#4759f8"/></linearGradient><linearGradient id="g47" gradientUnits="userSpaceOnUse" x1="400" x2="634" y1="0" y2="0"><stop offset="0.000" stop-color="#69cd6b"/><stop offset="0.048" stop-color="#40ca8d"/><stop offset="0.095" stop-color="#43ca8b"/><stop offset="0.143" stop-color="#4fcc80"/><stop offset="0.190" stop-color="#4ecc81"/><stop offset="0.238" stop-color="#4ecc81"/><stop offset="0.286" stop-color="#96ca48"/><stop offset="0.333" stop-color="#79cc5e"/><stop offset="0.381" stop-color="#8dcb4f"/><stop offset="0.429" stop-color="#79cc5e"/><stop offset="0.476" stop-color="#93ca4b"/><stop offset="0.524" stop-color="#a4c83e"/><stop offset="0.571" stop-color="#93ca4a"/><stop offset="0.619" stop-color="#a0c841"/><stop offset="0.667" stop-color="#78cc5f"/><stop offset="0.714" stop-color="#a1c840"/><stop offset="0.762" stop-color="#75cc61"/><stop offset="0.810" stop-color="#88cb53"/><stop offset="0.857" stop-color="#7dcc5b"/><stop offset="0.905" stop-color="#9bc944"/><stop offset="0.952" stop-color="#b7c532"/><stop offset="1.000" stop-color="#9fc942"/></linearGradient><linearGradient id="g48" gradientUnits="userSpaceOnUse" x1="216" x2="503" y1="0" y2="0"><stop offset="0.000" stop-color="#7acc5e"/><stop offset="0.038" stop-color="#9ac945"/><stop offset="0.077" stop-color="#b5c533"/><stop offset="0.115" stop-color="#a3c83f"/><stop offset="0.154" stop-color="#87cb54"/><stop offset="0.192" stop-color="#43ca8b"/><stop offset="0.231" stop-color="#43ca8b"/><stop offset="0.269" stop-color="#50cc7f"/><stop offset="0.308" stop-color="#69cd6b"/><stop offset="0.346" stop-color="#94ca4a"/><stop offset="0.385" stop-color="#a6c83c"/><stop offset="0.423" stop-color="#b5c533"/><stop offset="0.462" stop-color="#e3bc2c"/><stop offset="0.500" stop-color="#dabd28"/><stop offset="0.538" stop-color="#f4ba3a"/><stop offset="0.577" stop-color="#febe3c"/><stop offset="0.615" stop-color="#e6bb2d"/><stop offset="0.654" stop-color="#f0ba36"/><stop offset="0.692" stop-color="#e5bb2d"/><stop offset="0.731" stop-color="#ecba32"/><stop offset="0.769" stop-color="#fec13a"/><stop offset="0.808" stop-color="#fdcb33"/><stop offset="0.846" stop-color="#f7db2a"/><stop offset="0.885" stop-color="#f5e626"/><stop offset="0.923" stop-color="#f7db2a"/><stop offset="0.962" stop-color="#f5ec22"/><stop offset="1.000" stop-color="#eeba34"/></linearGradient><linearGradient id="g49" gradientUnits="userSpaceOnUse" x1="330" x2="657" y1="0" y2="0"><stop offset="0.000" stop-color="#06b5cf"/><stop offset="0.034" stop-color="#01b9c8"/><stop offset="0.069" stop-color="#02bac5"/><stop offset="0.103" stop-color="#0fbeba"/><stop offset="0.138" stop-color="#1bc0b4"/><stop offset="0.172" stop-color="#0abdbd"/><stop offset="0.207" stop-color="#1baade"/><stop offset="0.241" stop-color="#41ca8c"/><stop offset="0.276" stop-color="#21c1b0"/><stop offset="0.310" stop-color="#20c1b1"/><stop offset="0.345" stop-color="#01b8c8"/><stop offset="0.379" stop-color="#0cbdbc"/><stop offset="0.414" stop-color="#23c1af"/><stop offset="0.448" stop-color="#02bac4"/><stop offset="0.483" stop-color="#27c2ac"/><stop offset="0.517" stop-color="#0cbdbc"/><stop offset="0.552" stop-color="#2ec4a5"/><stop offset="0.586" stop-color="#0bbdbd"/><stop offset="0.621" stop-color="#2dc4a6"/><stop offset="0.655" stop-color="#0eb2d4"/><stop offset="0.690" stop-color="#2cc4a7"/><stop offset="0.724" stop-color="#17bfb7"/><stop offset="0.759" stop-color="#02bbc3"/><stop offset="0.793" stop-color="#27c2ab"/><stop offset="0.828" stop-color="#16bfb7"/><stop offset="0.862" stop-color="#34c79b"/><stop offset="0.897" stop-color="#41ca8d"/><stop offset="0.931" stop-color="#50cc7f"/><stop offset="0.966" stop-color="#83cc57"/><stop offset="1.000" stop-color="#78cc5f"/></linearGradient><linearGradient id="g50" gradientUnits="userSpaceOnUse" x1="420" x2="602" y1="0" y2="0"><stop offset="0.000" stop-color="#9cc944"/><stop offset="0.062" stop-color="#b2c635"/><stop offset="0.125" stop-color="#e4bb2c"/><stop offset="0.188" stop-color="#fdce31"/><stop offset="0.250" stop-color="#f5eb23"/><stop offset="0.312" stop-color="#fec636"/><stop offset="0.375" stop-color="#fdbd3d"/><stop offset="0.438" stop-color="#b0c636"/><stop offset="0.500" stop-color="#ebba31"/><stop offset="0.562" stop-color="#fec239"/><stop offset="0.625" stop-color="#fbd22f"/><stop offset="0.688" stop-color="#f6e028"/><stop offset="0.750" stop-color="#f6f11e"/><stop offset="0.812" stop-color="#f6ef20"/><stop offset="0.875" stop-color="#f5e526"/><stop offset="0.938" stop-color="#fec537"/><stop offset="1.000" stop-color="#fec934"/></linearGradient><linearGradient id="g51" gradientUnits="userSpaceOnUse" x1="350" x2="589" y1="0" y2="0"><stop offset="0.000" stop-color="#43ca8a"/><stop offset="0.048" stop-color="#55cc7b"/><stop offset="0.095" stop-color="#4acb84"/><stop offset="0.143" stop-color="#63cd6f"/><stop offset="0.190" stop-color="#a6c83d"/><stop offset="0.238" stop-color="#98c946"/><stop offset="0.286" stop-color="#a8c73b"/><stop offset="0.333" stop-color="#a9c73a"/><stop offset="0.381" stop-color="#ebba31"/><stop offset="0.429" stop-color="#d1bf27"/><stop offset="0.476" stop-color="#f4ba39"/><stop offset="0.524" stop-color="#e5bb2c"/><stop offset="0.571" stop-color="#fdbd3d"/><stop offset="0.619" stop-color="#e2bc2c"/><stop offset="0.667" stop-color="#e3bb2c"/><stop offset="0.714" stop-color="#fdcb32"/><stop offset="0.762" stop-color="#fabb3d"/><stop offset="0.810" stop-color="#fec03a"/><stop offset="0.857" stop-color="#fec834"/><stop offset="0.905" stop-color="#fec636"/><stop offset="0.952" stop-color="#fec03a"/><stop offset="1.000" stop-color="#e9bb30"/></linearGradient><linearGradient id="g52" gradientUnits="userSpaceOnUse" x1="195" x2="638" y1="0" y2="0"><stop offset="0.000" stop-color="#80cc59"/><stop offset="0.025" stop-color="#97ca48"/><stop offset="0.050" stop-color="#a9c73a"/><stop offset="0.075" stop-color="#a6c83d"/><stop offset="0.100" stop-color="#a1c840"/><stop offset="0.125" stop-color="#88cb53"/><stop offset="0.150" stop-color="#acc739"/><stop offset="0.175" stop-color="#d1bf27"/><stop offset="0.200" stop-color="#a8c73b"/><stop offset="0.225" stop-color="#bcc42f"/><stop offset="0.250" stop-color="#e5bb2d"/><stop offset="0.275" stop-color="#f3ba38"/><stop offset="0.300" stop-color="#dabd28"/><stop offset="0.325" stop-color="#d0bf27"/><stop offset="0.350" stop-color="#b6c532"/><stop offset="0.375" stop-color="#d9bd28"/><stop offset="0.400" stop-color="#d5be28"/><stop offset="0.425" stop-color="#f4ba3a"/><stop offset="0.450" stop-color="#fec338"/><stop offset="0.475" stop-color="#fec338"/><stop offset="0.500" stop-color="#fdce31"/><stop offset="0.525" stop-color="#edba33"/><stop offset="0.550" stop-color="#e8bb2e"/><stop offset="0.575" stop-color="#fccf30"/><stop offset="0.600" stop-color="#fdcb33"/><stop offset="0.625" stop-color="#eeba34"/><stop offset="0.650" stop-color="#febf3c"/><stop offset="0.675" stop-color="#ecba32"/><stop offset="0.700" stop-color="#fdbd3d"/><stop offset="0.725" stop-color="#fec13a"/><stop offset="0.750" stop-color="#fec934"/><stop offset="0.775" stop-color="#eeba34"/><stop offset="0.800" stop-color="#e8bb2e"/><stop offset="0.825" stop-color="#fcbd3d"/><stop offset="0.850" stop-color="#dfbc2a"/><stop offset="0.875" stop-color="#f5ba3a"/><stop offset="0.900" stop-color="#89cb52"/><stop offset="0.925" stop-color="#53cc7d"/><stop offset="0.950" stop-color="#01b9c8"/><stop offset="0.975" stop-color="#47cb87"/><stop offset="1.000" stop-color="#4dcb82"/></linearGradient><linearGradient id="g53" gradientUnits="userSpaceOnUse" x1="169" x2="529" y1="0" y2="0"><stop offset="0.000" stop-color="#5bcc76"/><stop offset="0.031" stop-color="#47cb87"/><stop offset="0.062" stop-color="#2cc4a7"/><stop offset="0.094" stop-color="#34c79c"/><stop offset="0.125" stop-color="#42ca8b"/><stop offset="0.156" stop-color="#89cb52"/><stop offset="0.188" stop-color="#69cd6b"/><stop offset="0.219" stop-color="#3dca90"/><stop offset="0.250" stop-color="#4bcb83"/><stop offset="0.281" stop-color="#44ca8a"/><stop offset="0.312" stop-color="#3ac994"/><stop offset="0.344" stop-color="#1dc0b3"/><stop offset="0.375" stop-color="#1fc1b1"/><stop offset="0.406" stop-color="#31c6a0"/><stop offset="0.438" stop-color="#27c2ac"/><stop offset="0.469" stop-color="#05bbc1"/><stop offset="0.500" stop-color="#39c895"/><stop offset="0.531" stop-color="#12beb9"/><stop offset="0.562" stop-color="#02bac3"/><stop offset="0.594" stop-color="#22c1af"/><stop offset="0.625" stop-color="#20c1b1"/><stop offset="0.656" stop-color="#02bac5"/><stop offset="0.688" stop-color="#1cc0b3"/><stop offset="0.719" stop-color="#01b8ca"/><stop offset="0.750" stop-color="#1aabdd"/><stop offset="0.781" stop-color="#03b7cc"/><stop offset="0.812" stop-color="#05bbc1"/><stop offset="0.844" stop-color="#02bac4"/><stop offset="0.875" stop-color="#28c3aa"/><stop offset="0.906" stop-color="#1abfb5"/><stop offset="0.938" stop-color="#2cc4a7"/><stop offset="0.969" stop-color="#3dc990"/><stop offset="1.000" stop-color="#1fc0b2"/></linearGradient><linearGradient id="g54" gradientUnits="userSpaceOnUse" x1="234" x2="500" y1="0" y2="0"><stop offset="0.000" stop-color="#47cb87"/><stop offset="0.042" stop-color="#0cbdbc"/><stop offset="0.083" stop-color="#01b9c6"/><stop offset="0.125" stop-color="#20a4e3"/><stop offset="0.167" stop-color="#01b8c8"/><stop offset="0.208" stop-color="#04b6cd"/><stop offset="0.250" stop-color="#21a3e3"/><stop offset="0.292" stop-color="#1aacdd"/><stop offset="0.333" stop-color="#1ea7e1"/><stop offset="0.375" stop-color="#1caadf"/><stop offset="0.417" stop-color="#14b0d8"/><stop offset="0.458" stop-color="#04b6cd"/><stop offset="0.500" stop-color="#02bac3"/><stop offset="0.542" stop-color="#01b8c8"/><stop offset="0.583" stop-color="#249de6"/><stop offset="0.625" stop-color="#1fa5e2"/><stop offset="0.667" stop-color="#1da8e0"/><stop offset="0.708" stop-color="#1ea7e1"/><stop offset="0.750" stop-color="#1aabdd"/><stop offset="0.792" stop-color="#14b0d8"/><stop offset="0.833" stop-color="#1fa6e2"/><stop offset="0.875" stop-color="#20a4e3"/><stop offset="0.917" stop-color="#05bbc1"/><stop offset="0.958" stop-color="#13b0d7"/><stop offset="1.000" stop-color="#02bac4"/></linearGradient><linearGradient id="g55" gradientUnits="userSpaceOnUse" x1="161" x2="527" y1="0" y2="0"><stop offset="0.000" stop-color="#01b9c6"/><stop offset="0.030" stop-color="#37c898"/><stop offset="0.061" stop-color="#52cc7e"/><stop offset="0.091" stop-color="#5fcd73"/><stop offset="0.121" stop-color="#3dc991"/><stop offset="0.152" stop-color="#5fcd73"/><stop offset="0.182" stop-color="#3dc990"/><stop offset="0.212" stop-color="#37c897"/><stop offset="0.242" stop-color="#4fcc80"/><stop offset="0.273" stop-color="#5ecd74"/><stop offset="0.303" stop-color="#5bcc77"/><stop offset="0.333" stop-color="#71cd64"/><stop offset="0.364" stop-color="#9fc942"/><stop offset="0.394" stop-color="#8ecb4f"/><stop offset="0.424" stop-color="#c8c129"/><stop offset="0.455" stop-color="#e5bb2d"/><stop offset="0.485" stop-color="#f4ba3a"/><stop offset="0.515" stop-color="#febf3b"/><stop offset="0.545" stop-color="#edba33"/><stop offset="0.576" stop-color="#fabb3d"/><stop offset="0.606" stop-color="#f8ba3d"/><stop offset="0.636" stop-color="#fec636"/><stop offset="0.667" stop-color="#ddbd29"/><stop offset="0.697" stop-color="#febf3b"/><stop offset="0.727" stop-color="#e1bc2b"/><stop offset="0.758" stop-color="#fec13a"/><stop offset="0.788" stop-color="#e7bb2e"/><stop offset="0.818" stop-color="#e9bb30"/><stop offset="0.848" stop-color="#f2ba37"/><stop offset="0.879" stop-color="#f8ba3d"/><stop offset="0.909" stop-color="#8bcb51"/><stop offset="0.939" stop-color="#6ecd67"/><stop offset="0.970" stop-color="#25c2ae"/><stop offset="1.000" stop-color="#31c6a0"/></linearGradient><linearGradient id="g56" gradientUnits="userSpaceOnUse" x1="186" x2="615" y1="0" y2="0"><stop offset="0.000" stop-color="#01b9c7"/><stop offset="0.026" stop-color="#1cc0b3"/><stop offset="0.051" stop-color="#08bcbf"/><stop offset="0.077" stop-color="#14beb8"/><stop offset="0.103" stop-color="#0bbdbc"/><stop offset="0.128" stop-color="#30c5a2"/><stop offset="0.154" stop-color="#2fc5a3"/><stop offset="0.179" stop-color="#50cc7f"/><stop offset="0.205" stop-color="#31c6a0"/><stop offset="0.231" stop-color="#57cc7a"/><stop offset="0.256" stop-color="#70cd65"/><stop offset="0.282" stop-color="#97ca47"/><stop offset="0.308" stop-color="#67cd6d"/><stop offset="0.333" stop-color="#55cc7b"/><stop offset="0.359" stop-color="#3cc992"/><stop offset="0.385" stop-color="#3cc991"/><stop offset="0.410" stop-color="#11beba"/><stop offset="0.436" stop-color="#23c1af"/><stop offset="0.462" stop-color="#02bac5"/><stop offset="0.487" stop-color="#30c5a2"/><stop offset="0.513" stop-color="#66cd6d"/><stop offset="0.538" stop-color="#34c79b"/><stop offset="0.564" stop-color="#78cc5f"/><stop offset="0.590" stop-color="#81cc58"/><stop offset="0.615" stop-color="#8bcb51"/><stop offset="0.641" stop-color="#a0c841"/><stop offset="0.667" stop-color="#97ca48"/><stop offset="0.692" stop-color="#72cd63"/><stop offset="0.718" stop-color="#94ca4a"/><stop offset="0.744" stop-color="#5ecc74"/><stop offset="0.769" stop-color="#e2bc2b"/><stop offset="0.795" stop-color="#ddbd29"/><stop offset="0.821" stop-color="#fec339"/><stop offset="0.846" stop-color="#efba35"/><stop offset="0.872" stop-color="#fad62d"/><stop offset="0.897" stop-color="#feca33"/><stop offset="0.923" stop-color="#fec239"/><stop offset="0.949" stop-color="#fec03b"/><stop offset="0.974" stop-color="#fec239"/><stop offset="1.000" stop-color="#f3ba38"/></linearGradient><linearGradient id="g57" gradientUnits="userSpaceOnUse" x1="196" x2="604" y1="0" y2="0"><stop offset="0.000" stop-color="#ccc028"/><stop offset="0.027" stop-color="#e0bc2a"/><stop offset="0.054" stop-color="#fbbc3d"/><stop offset="0.081" stop-color="#fdce31"/><stop offset="0.108" stop-color="#fec03b"/><stop offset="0.135" stop-color="#e6bb2d"/><stop offset="0.162" stop-color="#dfbc2a"/><stop offset="0.189" stop-color="#c9c129"/><stop offset="0.216" stop-color="#c4c22b"/><stop offset="0.243" stop-color="#a3c83f"/><stop offset="0.270" stop-color="#b9c431"/><stop offset="0.297" stop-color="#cdc028"/><stop offset="0.324" stop-color="#f5ba3a"/><stop offset="0.351" stop-color="#fbbc3d"/><stop offset="0.378" stop-color="#fec339"/><stop offset="0.405" stop-color="#fdcc32"/><stop offset="0.432" stop-color="#fec636"/><stop offset="0.459" stop-color="#fcbc3d"/><stop offset="0.486" stop-color="#f7ba3d"/><stop offset="0.514" stop-color="#fabb3d"/><stop offset="0.541" stop-color="#fec537"/><stop offset="0.568" stop-color="#efba35"/><stop offset="0.595" stop-color="#e3bc2c"/><stop offset="0.622" stop-color="#fbbc3d"/><stop offset="0.649" stop-color="#fdcb33"/><stop offset="0.676" stop-color="#fbd32e"/><stop offset="0.703" stop-color="#f8da2b"/><stop offset="0.730" stop-color="#fec636"/><stop offset="0.757" stop-color="#f5ed21"/><stop offset="0.784" stop-color="#f8f917"/><stop offset="0.811" stop-color="#f9fb15"/><stop offset="0.838" stop-color="#f8f61a"/><stop offset="0.865" stop-color="#f3ba38"/><stop offset="0.892" stop-color="#fec239"/><stop offset="0.919" stop-color="#e2bc2b"/><stop offset="0.946" stop-color="#fbbc3d"/><stop offset="0.973" stop-color="#f9ba3d"/><stop offset="1.000" stop-color="#fec835"/></linearGradient><linearGradient id="g58" gradientUnits="userSpaceOnUse" x1="188" x2="645" y1="0" y2="0"><stop offset="0.000" stop-color="#9bc944"/><stop offset="0.024" stop-color="#5fcd73"/><stop offset="0.049" stop-color="#92ca4b"/><stop offset="0.073" stop-color="#afc637"/><stop offset="0.098" stop-color="#e0bc2a"/><stop offset="0.122" stop-color="#bcc42f"/><stop offset="0.146" stop-color="#a2c840"/><stop offset="0.171" stop-color="#91ca4c"/><stop offset="0.195" stop-color="#b5c533"/><stop offset="0.220" stop-color="#8dcb4f"/><stop offset="0.244" stop-color="#99c946"/><stop offset="0.268" stop-color="#b5c533"/><stop offset="0.293" stop-color="#a2c83f"/><stop offset="0.317" stop-color="#e5bb2d"/><stop offset="0.341" stop-color="#a2c83f"/><stop offset="0.366" stop-color="#f7ba3c"/><stop offset="0.390" stop-color="#bec32e"/><stop offset="0.415" stop-color="#b2c635"/><stop offset="0.439" stop-color="#a5c83d"/><stop offset="0.463" stop-color="#85cb56"/><stop offset="0.488" stop-color="#7acc5d"/><stop offset="0.512" stop-color="#7dcc5c"/><stop offset="0.537" stop-color="#71cd64"/><stop offset="0.561" stop-color="#91ca4d"/><stop offset="0.585" stop-color="#a0c841"/><stop offset="0.610" stop-color="#84cc56"/><stop offset="0.634" stop-color="#9cc944"/><stop offset="0.659" stop-color="#7ccc5c"/><stop offset="0.683" stop-color="#9dc943"/><stop offset="0.707" stop-color="#8ccb50"/><stop offset="0.732" stop-color="#73cd63"/><stop offset="0.756" stop-color="#b0c636"/><stop offset="0.780" stop-color="#c1c32d"/><stop offset="0.805" stop-color="#c8c129"/><stop offset="0.829" stop-color="#e7bb2e"/><stop offset="0.854" stop-color="#fdbd3d"/><stop offset="0.878" stop-color="#e9bb2f"/><stop offset="0.902" stop-color="#f7ba3c"/><stop offset="0.927" stop-color="#fec537"/><stop offset="0.951" stop-color="#fdbd3d"/><stop offset="0.976" stop-color="#fec735"/><stop offset="1.000" stop-color="#f6dd29"/></linearGradient><linearGradient id="g59" gradientUnits="userSpaceOnUse" x1="228" x2="592" y1="0" y2="0"><stop offset="0.000" stop-color="#6ecd67"/><stop offset="0.030" stop-color="#8acb52"/><stop offset="0.061" stop-color="#5ccc76"/><stop offset="0.091" stop-color="#7ccc5c"/><stop offset="0.121" stop-color="#60cd72"/><stop offset="0.152" stop-color="#34c79c"/><stop offset="0.182" stop-color="#6fcd66"/><stop offset="0.212" stop-color="#50cc80"/><stop offset="0.242" stop-color="#48cb87"/><stop offset="0.273" stop-color="#50cc7f"/><stop offset="0.303" stop-color="#51cc7e"/><stop offset="0.333" stop-color="#27c2ac"/><stop offset="0.364" stop-color="#12beb9"/><stop offset="0.394" stop-color="#2bc3a8"/><stop offset="0.424" stop-color="#03b7cc"/><stop offset="0.455" stop-color="#01b9c6"/><stop offset="0.485" stop-color="#0dbdbb"/><stop offset="0.515" stop-color="#18addb"/><stop offset="0.545" stop-color="#17aedb"/><stop offset="0.576" stop-color="#18addb"/><stop offset="0.606" stop-color="#1da9e0"/><stop offset="0.636" stop-color="#09b4d1"/><stop offset="0.667" stop-color="#06b5cf"/><stop offset="0.697" stop-color="#05bbc1"/><stop offset="0.727" stop-color="#12beb9"/><stop offset="0.758" stop-color="#0abdbd"/><stop offset="0.788" stop-color="#11beba"/><stop offset="0.818" stop-color="#14bfb8"/><stop offset="0.848" stop-color="#1fc1b1"/><stop offset="0.879" stop-color="#04b6cd"/><stop offset="0.909" stop-color="#20c1b1"/><stop offset="0.939" stop-color="#48cb86"/><stop offset="0.970" stop-color="#30c5a1"/><stop offset="1.000" stop-color="#30c5a2"/></linearGradient><linearGradient id="g60" gradientUnits="userSpaceOnUse" x1="203" x2="636" y1="0" y2="0"><stop offset="0.000" stop-color="#33c69d"/><stop offset="0.026" stop-color="#3eca8f"/><stop offset="0.051" stop-color="#60cd73"/><stop offset="0.077" stop-color="#64cd6f"/><stop offset="0.103" stop-color="#76cc61"/><stop offset="0.128" stop-color="#aac73a"/><stop offset="0.154" stop-color="#aac73a"/><stop offset="0.179" stop-color="#47cb87"/><stop offset="0.205" stop-color="#4fcc81"/><stop offset="0.231" stop-color="#48cb86"/><stop offset="0.256" stop-color="#33c79d"/><stop offset="0.282" stop-color="#63cd70"/><stop offset="0.308" stop-color="#90ca4d"/><stop offset="0.333" stop-color="#66cd6d"/><stop offset="0.359" stop-color="#75cc61"/><stop offset="0.385" stop-color="#2dc4a6"/><stop offset="0.410" stop-color="#44cb8a"/><stop offset="0.436" stop-color="#34c79b"/><stop offset="0.462" stop-color="#66cd6d"/><stop offset="0.487" stop-color="#4ccb83"/><stop offset="0.513" stop-color="#4bcb84"/><stop offset="0.538" stop-color="#5dcc75"/><stop offset="0.564" stop-color="#65cd6e"/><stop offset="0.590" stop-color="#81cc59"/><stop offset="0.615" stop-color="#78cc5f"/><stop offset="0.641" stop-color="#6acd6a"/><stop offset="0.667" stop-color="#31c5a1"/><stop offset="0.692" stop-color="#74cc62"/><stop offset="0.718" stop-color="#52cc7e"/><stop offset="0.744" stop-color="#32c69f"/><stop offset="0.769" stop-color="#54cc7c"/><stop offset="0.795" stop-color="#42ca8b"/><stop offset="0.821" stop-color="#13beb8"/><stop offset="0.846" stop-color="#24c1af"/><stop offset="0.872" stop-color="#09b4d1"/><stop offset="0.897" stop-color="#24c1ae"/><stop offset="0.923" stop-color="#37c897"/><stop offset="0.949" stop-color="#1fc1b1"/><stop offset="0.974" stop-color="#62cd71"/><stop offset="1.000" stop-color="#3fca8e"/></linearGradient><linearGradient id="g61" gradientUnits="userSpaceOnUse" x1="231" x2="626" y1="0" y2="0"><stop offset="0.000" stop-color="#7ecc5a"/><stop offset="0.029" stop-color="#b2c535"/><stop offset="0.057" stop-color="#95ca49"/><stop offset="0.086" stop-color="#5ccc75"/><stop offset="0.114" stop-color="#96ca49"/><stop offset="0.143" stop-color="#cfc028"/><stop offset="0.171" stop-color="#bfc32d"/><stop offset="0.200" stop-color="#b5c533"/><stop offset="0.229" stop-color="#b3c534"/><stop offset="0.257" stop-color="#a1c840"/><stop offset="0.286" stop-color="#80cc59"/><stop offset="0.314" stop-color="#78cc5f"/><stop offset="0.343" stop-color="#a4c83e"/><stop offset="0.371" stop-color="#bbc430"/><stop offset="0.400" stop-color="#49cb85"/><stop offset="0.429" stop-color="#a3c83f"/><stop offset="0.457" stop-color="#b4c533"/><stop offset="0.486" stop-color="#7acc5e"/><stop offset="0.514" stop-color="#c1c32c"/><stop offset="0.543" stop-color="#66cd6d"/><stop offset="0.571" stop-color="#b3c534"/><stop offset="0.600" stop-color="#c6c22a"/><stop offset="0.629" stop-color="#cac129"/><stop offset="0.657" stop-color="#5dcc75"/><stop offset="0.686" stop-color="#c3c22b"/><stop offset="0.714" stop-color="#b3c534"/><stop offset="0.743" stop-color="#c9c129"/><stop offset="0.771" stop-color="#d4bf27"/><stop offset="0.800" stop-color="#a8c73b"/><stop offset="0.829" stop-color="#d2bf27"/><stop offset="0.857" stop-color="#82cc57"/><stop offset="0.886" stop-color="#afc636"/><stop offset="0.914" stop-color="#cfc028"/><stop offset="0.943" stop-color="#febd3c"/><stop offset="0.971" stop-color="#fdcd32"/><stop offset="1.000" stop-color="#f0ba36"/></linearGradient><linearGradient id="g62" gradientUnits="userSpaceOnUse" x1="226" x2="651" y1="0" y2="0"><stop offset="0.000" stop-color="#3ac993"/><stop offset="0.026" stop-color="#81cc58"/><stop offset="0.053" stop-color="#55cc7c"/><stop offset="0.079" stop-color="#a6c73c"/><stop offset="0.105" stop-color="#68cd6b"/><stop offset="0.132" stop-color="#6bcd69"/><stop offset="0.158" stop-color="#9bc944"/><stop offset="0.184" stop-color="#4fcc80"/><stop offset="0.211" stop-color="#6acd6a"/><stop offset="0.237" stop-color="#64cd6f"/><stop offset="0.263" stop-color="#a3c83e"/><stop offset="0.289" stop-color="#b2c535"/><stop offset="0.316" stop-color="#80cc59"/><stop offset="0.342" stop-color="#38c896"/><stop offset="0.368" stop-color="#67cd6c"/><stop offset="0.395" stop-color="#a3c83f"/><stop offset="0.421" stop-color="#69cd6a"/><stop offset="0.447" stop-color="#8acb52"/><stop offset="0.474" stop-color="#5ccc76"/><stop offset="0.500" stop-color="#53cc7d"/><stop offset="0.526" stop-color="#39c994"/><stop offset="0.553" stop-color="#34c79b"/><stop offset="0.579" stop-color="#5dcc75"/><stop offset="0.605" stop-color="#39c895"/><stop offset="0.632" stop-color="#03b7cc"/><stop offset="0.658" stop-color="#03b7cb"/><stop offset="0.684" stop-color="#20c1b1"/><stop offset="0.711" stop-color="#32c69e"/><stop offset="0.737" stop-color="#62cd71"/><stop offset="0.763" stop-color="#6bcd69"/><stop offset="0.789" stop-color="#93ca4a"/><stop offset="0.816" stop-color="#64cd6f"/><stop offset="0.842" stop-color="#61cd71"/><stop offset="0.868" stop-color="#56cc7b"/><stop offset="0.895" stop-color="#46cb88"/><stop offset="0.921" stop-color="#62cd70"/><stop offset="0.947" stop-color="#74cd62"/><stop offset="0.974" stop-color="#74cd62"/><stop offset="1.000" stop-color="#81cc58"/></linearGradient></defs>
<g fill="none" stroke-width="9.2" stroke-linecap="round" stroke-linejoin="round">
<path d="M240.0 395.0C250.0 396.7 280.0 401.2 300.0 405.0C320.0 408.8 340.0 413.8 360.0 418.0C380.0 422.2 400.0 425.5 420.0 430.0C440.0 434.5 460.0 440.3 480.0 445.0C500.0 449.7 523.3 455.2 540.0 458.0C556.7 460.8 573.3 461.3 580.0 462.0" stroke="url(#g0)"/>
<path d="M250.0 420.0C260.0 421.3 290.0 424.7 310.0 428.0C330.0 431.3 350.0 436.0 370.0 440.0C390.0 444.0 410.0 447.0 430.0 452.0C450.0 457.0 470.0 464.0 490.0 470.0C510.0 476.0 531.7 483.8 550.0 488.0C568.3 492.2 591.7 493.8 600.0 495.0" stroke="url(#g1)"/>
<path d="M230.0 385.0C240.0 386.2 270.0 389.5 290.0 392.0C310.0 394.5 330.0 396.2 350.0 400.0C370.0 403.8 390.0 410.0 410.0 415.0C430.0 420.0 450.0 424.5 470.0 430.0C490.0 435.5 512.5 443.8 530.0 448.0C547.5 452.2 567.5 453.8 575.0 455.0" stroke="url(#g2)"/>
<path d="M270.0 440.0C280.0 442.5 310.0 450.0 330.0 455.0C350.0 460.0 370.0 465.0 390.0 470.0C410.0 475.0 430.0 479.2 450.0 485.0C470.0 490.8 491.7 500.0 510.0 505.0C528.3 510.0 551.7 513.3 560.0 515.0" stroke="url(#g3)"/>
<path d="M300.0 460.0C310.0 462.7 340.0 471.0 360.0 476.0C380.0 481.0 400.0 484.8 420.0 490.0C440.0 495.2 460.0 502.0 480.0 507.0C500.0 512.0 524.0 517.2 540.0 520.0C556.0 522.8 570.0 523.3 576.0 524.0" stroke="url(#g4)"/>
<path d="M260.0 400.0C270.0 402.0 300.0 407.3 320.0 412.0C340.0 416.7 360.0 423.3 380.0 428.0C400.0 432.7 420.0 436.0 440.0 440.0C460.0 444.0 480.0 447.0 500.0 452.0C520.0 457.0 543.3 465.3 560.0 470.0C576.7 474.7 593.3 478.3 600.0 480.0" stroke="url(#g5)"/>
<path d="M300.0 365.0C310.0 367.5 340.0 375.5 360.0 380.0C380.0 384.5 400.0 387.8 420.0 392.0C440.0 396.2 460.0 400.7 480.0 405.0C500.0 409.3 521.8 414.7 540.0 418.0C558.2 421.3 580.8 423.8 589.0 425.0" stroke="url(#g6)"/>
<path d="M232.0 402.0C241.7 403.0 270.3 405.0 290.0 408.0C309.7 411.0 330.0 415.3 350.0 420.0C370.0 424.7 390.0 430.0 410.0 436.0C430.0 442.0 450.0 449.3 470.0 456.0C490.0 462.7 510.0 470.0 530.0 476.0C550.0 482.0 580.0 489.3 590.0 492.0" stroke="url(#g7)"/>
<path d="M238.0 426.0C248.3 427.3 279.7 430.7 300.0 434.0C320.3 437.3 340.0 441.3 360.0 446.0C380.0 450.7 400.0 457.0 420.0 462.0C440.0 467.0 460.0 472.0 480.0 476.0C500.0 480.0 520.7 483.7 540.0 486.0C559.3 488.3 586.7 489.3 596.0 490.0" stroke="url(#g8)"/>
<path d="M270.0 395.0C280.0 397.5 310.0 404.2 330.0 410.0C350.0 415.8 370.0 423.7 390.0 430.0C410.0 436.3 430.0 442.7 450.0 448.0C470.0 453.3 490.0 458.3 510.0 462.0C530.0 465.7 553.3 468.0 570.0 470.0C586.7 472.0 603.3 473.3 610.0 474.0" stroke="url(#g9)"/>
<path d="M300.0 436.0C310.0 438.7 340.0 446.3 360.0 452.0C380.0 457.7 400.0 464.7 420.0 470.0C440.0 475.3 460.0 480.0 480.0 484.0C500.0 488.0 520.0 490.3 540.0 494.0C560.0 497.7 590.0 504.0 600.0 506.0" stroke="url(#g10)"/>
<path d="M310.0 420.0C320.0 421.7 350.0 426.0 370.0 430.0C390.0 434.0 410.0 438.7 430.0 444.0C450.0 449.3 470.0 455.7 490.0 462.0C510.0 468.3 531.0 476.3 550.0 482.0C569.0 487.7 595.0 493.7 604.0 496.0" stroke="url(#g11)"/>
<path d="M340.0 460.0C350.0 462.7 380.0 470.7 400.0 476.0C420.0 481.3 440.0 486.3 460.0 492.0C480.0 497.7 500.0 505.3 520.0 510.0C540.0 514.7 570.0 518.3 580.0 520.0" stroke="url(#g12)"/>
<path d="M360.0 420.0C370.0 421.0 400.0 423.3 420.0 426.0C440.0 428.7 460.0 431.7 480.0 436.0C500.0 440.3 520.0 447.7 540.0 452.0C560.0 456.3 585.3 459.7 600.0 462.0C614.7 464.3 623.3 465.3 628.0 466.0" stroke="url(#g13)"/>
<path d="M400.0 440.0C410.0 441.0 440.0 443.3 460.0 446.0C480.0 448.7 500.0 451.3 520.0 456.0C540.0 460.7 564.0 469.0 580.0 474.0C596.0 479.0 610.0 484.0 616.0 486.0" stroke="url(#g14)"/>
<path d="M280.0 410.0C290.0 412.3 320.0 418.0 340.0 424.0C360.0 430.0 380.0 438.7 400.0 446.0C420.0 453.3 440.0 461.3 460.0 468.0C480.0 474.7 500.8 481.0 520.0 486.0C539.2 491.0 565.8 496.0 575.0 498.0" stroke="url(#g15)"/>
<path d="M226.0 388.0C235.0 389.7 261.0 395.3 280.0 398.0C299.0 400.7 320.0 402.0 340.0 404.0C360.0 406.0 380.0 407.0 400.0 410.0C420.0 413.0 440.0 417.7 460.0 422.0C480.0 426.3 500.0 432.0 520.0 436.0C540.0 440.0 570.0 444.3 580.0 446.0" stroke="url(#g16)"/>
<path d="M380.0 482.0C390.0 485.0 420.0 494.0 440.0 500.0C460.0 506.0 480.0 513.3 500.0 518.0C520.0 522.7 543.3 527.0 560.0 528.0C576.7 529.0 593.3 524.7 600.0 524.0" stroke="url(#g17)"/>
<path d="M235.0 398.0C245.8 400.3 279.2 407.7 300.0 412.0C320.8 416.3 340.0 419.7 360.0 424.0C380.0 428.3 400.0 433.3 420.0 438.0C440.0 442.7 460.0 448.0 480.0 452.0C500.0 456.0 520.0 459.0 540.0 462.0C560.0 465.0 590.0 468.7 600.0 470.0" stroke="url(#g18)"/>
<path d="M245.0 412.0C254.2 414.0 280.8 419.7 300.0 424.0C319.2 428.3 340.0 433.3 360.0 438.0C380.0 442.7 400.0 447.0 420.0 452.0C440.0 457.0 460.0 463.0 480.0 468.0C500.0 473.0 521.7 478.3 540.0 482.0C558.3 485.7 581.7 488.7 590.0 490.0" stroke="url(#g19)"/>
<path d="M300.0 400.0C310.0 401.3 340.0 405.0 360.0 408.0C380.0 411.0 400.0 414.7 420.0 418.0C440.0 421.3 460.0 424.3 480.0 428.0C500.0 431.7 521.7 436.3 540.0 440.0C558.3 443.7 576.7 447.5 590.0 450.0C603.3 452.5 615.0 454.2 620.0 455.0" stroke="url(#g20)"/>
<path d="M260.0 432.0C270.0 434.3 300.0 441.3 320.0 446.0C340.0 450.7 360.0 455.3 380.0 460.0C400.0 464.7 420.0 469.0 440.0 474.0C460.0 479.0 481.7 485.7 500.0 490.0C518.3 494.3 535.8 497.5 550.0 500.0C564.2 502.5 579.2 504.2 585.0 505.0" stroke="url(#g21)"/>
<path d="M330.0 430.0C340.0 432.3 370.0 439.0 390.0 444.0C410.0 449.0 430.0 454.0 450.0 460.0C470.0 466.0 491.7 473.7 510.0 480.0C528.3 486.3 544.2 492.7 560.0 498.0C575.8 503.3 597.5 509.7 605.0 512.0" stroke="url(#g22)"/>
<path d="M350.0 398.0C360.0 399.0 390.0 401.3 410.0 404.0C430.0 406.7 450.0 410.0 470.0 414.0C490.0 418.0 511.7 423.7 530.0 428.0C548.3 432.3 565.8 436.7 580.0 440.0C594.2 443.3 609.2 446.7 615.0 448.0" stroke="url(#g23)"/>
<path d="M290.0 385.0C300.0 385.8 330.0 387.8 350.0 390.0C370.0 392.2 390.0 394.7 410.0 398.0C430.0 401.3 451.7 406.0 470.0 410.0C488.3 414.0 505.0 418.7 520.0 422.0C535.0 425.3 553.3 428.7 560.0 430.0" stroke="url(#g24)"/>
<path d="M380.0 445.0C390.0 447.2 420.0 453.2 440.0 458.0C460.0 462.8 481.7 469.0 500.0 474.0C518.3 479.0 533.3 483.7 550.0 488.0C566.7 492.3 591.7 498.0 600.0 500.0" stroke="url(#g25)"/>
<path d="M240.0 445.0C250.0 447.8 280.0 456.2 300.0 462.0C320.0 467.8 340.0 474.2 360.0 480.0C380.0 485.8 400.0 491.7 420.0 497.0C440.0 502.3 461.7 507.2 480.0 512.0C498.3 516.8 516.7 522.2 530.0 526.0C543.3 529.8 555.0 533.5 560.0 535.0" stroke="url(#g26)"/>
<path d="M280.0 470.0C290.0 471.7 320.0 475.8 340.0 480.0C360.0 484.2 380.0 490.0 400.0 495.0C420.0 500.0 440.0 505.8 460.0 510.0C480.0 514.2 502.5 516.7 520.0 520.0C537.5 523.3 557.5 528.3 565.0 530.0" stroke="url(#g27)"/>
<path d="M210.0 372.0C220.0 373.3 250.0 377.7 270.0 380.0C290.0 382.3 310.0 384.3 330.0 386.0C350.0 387.7 370.0 387.7 390.0 390.0C410.0 392.3 430.0 396.7 450.0 400.0C470.0 403.3 490.0 407.0 510.0 410.0C530.0 413.0 560.0 416.7 570.0 418.0" stroke="url(#g28)"/>
<path d="M250.0 360.0C260.0 360.7 290.0 363.0 310.0 364.0C330.0 365.0 350.0 364.7 370.0 366.0C390.0 367.3 410.0 369.7 430.0 372.0C450.0 374.3 470.0 376.7 490.0 380.0C510.0 383.3 531.7 388.7 550.0 392.0C568.3 395.3 591.7 398.7 600.0 400.0" stroke="url(#g29)"/>
<path d="M320.0 348.0C330.0 348.3 360.0 349.3 380.0 350.0C400.0 350.7 420.0 350.0 440.0 352.0C460.0 354.0 480.0 358.2 500.0 362.0C520.0 365.8 543.3 372.0 560.0 375.0C576.7 378.0 593.3 379.2 600.0 380.0" stroke="url(#g30)"/>
<path d="M230.0 350.0C240.0 351.3 270.0 356.0 290.0 358.0C310.0 360.0 330.0 361.7 350.0 362.0C370.0 362.3 390.0 360.0 410.0 360.0C430.0 360.0 451.7 360.7 470.0 362.0C488.3 363.3 511.7 367.0 520.0 368.0" stroke="url(#g31)"/>
<path d="M420.0 476.0C430.0 478.0 460.0 484.3 480.0 488.0C500.0 491.7 521.7 494.7 540.0 498.0C558.3 501.3 578.0 505.3 590.0 508.0C602.0 510.7 608.3 513.0 612.0 514.0" stroke="url(#g32)"/>
<path d="M380.0 440.0C386.7 441.3 407.3 445.3 420.0 448.0C432.7 450.7 442.2 453.0 456.0 456.0C469.8 459.0 490.7 463.3 503.0 466.0C515.3 468.7 520.5 469.7 530.0 472.0C539.5 474.3 550.0 477.7 560.0 480.0C570.0 482.3 585.0 485.0 590.0 486.0" stroke="url(#g33)"/>
<path d="M224.0 505.0C230.4 505.7 249.8 506.7 262.5 509.0C275.2 511.3 287.5 516.5 300.0 519.0C312.5 521.5 328.2 521.8 337.5 524.0C346.8 526.2 346.6 527.6 356.0 532.0C365.4 536.4 381.5 545.9 394.0 550.6C406.5 555.3 419.6 557.4 431.0 560.0C442.4 562.6 451.0 564.3 462.5 566.0C474.0 567.7 490.0 568.2 500.0 570.0C510.0 571.8 518.8 575.8 522.5 577.0" stroke="url(#g34)"/>
<path d="M161.0 482.0C168.5 483.2 192.2 487.2 206.0 489.0C219.8 490.8 231.5 491.3 244.0 492.5C256.5 493.7 268.5 493.9 281.0 496.0C293.5 498.1 306.5 501.8 319.0 505.0C331.5 508.2 343.5 511.8 356.0 515.0C368.5 518.2 378.3 519.7 394.0 524.0C409.7 528.3 435.7 536.5 450.0 541.0C464.3 545.5 470.4 547.5 480.0 551.0C489.6 554.5 502.9 560.2 507.5 562.0" stroke="url(#g35)"/>
<path d="M178.0 477.5C185.8 478.2 211.0 480.2 225.0 482.0C239.0 483.8 249.5 485.7 262.0 488.0C274.5 490.3 285.3 493.0 300.0 496.0C314.7 499.0 333.3 502.7 350.0 506.0C366.7 509.3 387.5 512.4 400.0 516.0C412.5 519.6 414.6 525.3 425.0 527.5C435.4 529.7 450.0 528.1 462.5 529.0C475.0 529.9 487.5 531.3 500.0 533.0C512.5 534.7 527.2 536.7 537.5 539.0C547.8 541.3 557.9 545.7 562.0 547.0" stroke="url(#g36)"/>
<path d="M260.0 455.0C271.7 458.3 309.7 467.7 330.0 475.0C350.3 482.3 366.2 493.3 382.0 499.0C397.8 504.7 414.7 506.2 425.0 509.0C435.3 511.8 434.7 513.5 444.0 516.0C453.3 518.5 468.5 522.4 481.0 524.0C493.5 525.6 507.5 525.6 519.0 525.6C530.5 525.6 541.0 524.1 550.0 524.0C559.0 523.9 569.2 524.6 573.0 524.7" stroke="url(#g37)"/>
<path d="M400.0 470.0C408.3 471.7 433.3 476.3 450.0 480.0C466.7 483.7 485.0 488.7 500.0 492.0C515.0 495.3 528.5 497.8 540.0 500.0C551.5 502.2 560.7 502.5 569.0 505.0C577.3 507.5 583.2 511.6 590.0 515.0C596.8 518.4 606.7 523.8 610.0 525.6" stroke="url(#g38)"/>
<path d="M174.0 464.0C182.5 465.3 207.2 469.8 225.0 472.0C242.8 474.2 262.2 475.3 281.0 477.5C299.8 479.7 318.7 482.5 337.5 485.0C356.3 487.5 375.2 489.7 394.0 492.5C412.8 495.3 432.3 498.8 450.0 502.0C467.7 505.2 485.5 509.0 500.0 512.0C514.5 515.0 527.7 517.7 537.0 520.0C546.3 522.3 552.8 524.7 556.0 525.6" stroke="url(#g39)"/>
<path d="M166.0 447.0C173.8 448.1 199.5 451.7 212.5 453.4C225.5 455.1 233.3 455.7 243.8 457.0C254.2 458.3 264.6 459.8 275.0 461.0C285.4 462.2 293.5 463.3 306.0 464.4C318.5 465.5 334.3 465.9 350.0 467.5C365.7 469.1 383.3 471.6 400.0 474.0C416.7 476.4 433.3 479.0 450.0 482.0C466.7 485.0 484.2 489.0 500.0 492.0C515.8 495.0 537.5 498.7 545.0 500.0" stroke="url(#g40)"/>
<path d="M166.0 447.5C169.8 448.4 182.0 450.8 189.0 453.0C196.0 455.2 201.5 458.1 208.0 461.0C214.5 463.9 220.7 467.2 228.0 470.6C235.3 474.0 243.8 478.5 251.6 481.6C259.4 484.7 268.5 487.1 275.0 489.4C281.5 491.7 285.4 493.3 290.6 495.6C295.8 497.9 300.8 500.3 306.0 503.4C311.2 506.5 316.8 511.3 322.0 514.4C327.2 517.5 331.3 519.1 337.5 522.0C343.7 524.9 352.3 528.7 359.0 532.0C365.7 535.3 370.0 537.3 377.5 542.0C385.0 546.7 396.1 555.2 404.0 560.0C411.9 564.8 418.0 567.9 425.0 570.6C432.0 573.4 442.5 575.5 446.0 576.5" stroke="url(#g41)"/>
<path d="M219.0 442.5C224.2 443.4 236.5 445.4 250.0 448.0C263.5 450.6 283.3 454.7 300.0 458.0C316.7 461.3 333.3 464.3 350.0 468.0C366.7 471.7 383.3 476.3 400.0 480.0C416.7 483.7 433.3 487.0 450.0 490.0C466.7 493.0 483.3 496.3 500.0 498.0C516.7 499.7 535.0 499.7 550.0 500.0C565.0 500.3 579.3 499.7 590.0 500.0C600.7 500.3 610.0 501.7 614.0 502.0" stroke="url(#g42)"/>
<path d="M206.0 422.0C209.2 423.2 218.7 426.8 225.0 429.0C231.3 431.2 237.8 433.3 244.0 435.0C250.2 436.7 253.2 437.8 262.5 439.0C271.8 440.2 285.4 440.3 300.0 442.5C314.6 444.7 333.3 448.8 350.0 452.0C366.7 455.2 383.3 459.3 400.0 462.0C416.7 464.7 433.3 466.3 450.0 468.0C466.7 469.7 483.3 470.3 500.0 472.0C516.7 473.7 535.0 476.5 550.0 478.0C565.0 479.5 579.3 480.0 590.0 481.0C600.7 482.0 610.0 483.5 614.0 484.0" stroke="url(#g43)"/>
<path d="M225.0 394.7C228.2 396.4 237.8 401.4 244.0 405.0C250.2 408.6 256.3 412.6 262.5 416.0C268.7 419.4 274.8 423.1 281.0 425.6C287.2 428.1 293.7 429.1 300.0 431.0C306.3 432.9 312.8 435.4 319.0 437.0C325.2 438.6 329.0 438.9 337.5 440.6C346.0 442.3 356.2 444.6 370.0 447.0C383.8 449.4 403.3 452.5 420.0 455.0C436.7 457.5 453.3 459.5 470.0 462.0C486.7 464.5 505.0 468.3 520.0 470.0C535.0 471.7 546.7 472.2 560.0 472.0C573.3 471.8 589.8 469.8 600.0 469.0C610.2 468.2 617.5 467.8 621.0 467.5" stroke="url(#g44)"/>
<path d="M197.0 395.0C200.0 394.0 208.7 391.3 215.0 389.0C221.3 386.7 227.5 382.8 235.0 381.0C242.5 379.2 249.2 377.8 260.0 378.0C270.8 378.2 285.0 379.7 300.0 382.0C315.0 384.3 333.3 388.7 350.0 392.0C366.7 395.3 383.3 398.7 400.0 402.0C416.7 405.3 433.3 408.2 450.0 412.0C466.7 415.8 483.3 421.2 500.0 425.0C516.7 428.8 535.2 432.9 550.0 435.0C564.8 437.1 582.5 437.1 589.0 437.5" stroke="url(#g45)"/>
<path d="M450.0 420.0C458.3 422.0 483.3 428.3 500.0 432.0C516.7 435.7 533.8 439.7 550.0 442.0C566.2 444.3 585.3 445.0 597.0 446.0C608.7 447.0 613.8 448.0 620.0 448.0C626.2 448.0 631.7 446.3 634.0 446.0" stroke="url(#g46)"/>
<path d="M400.0 400.0C408.3 402.5 433.3 410.0 450.0 415.0C466.7 420.0 483.3 425.8 500.0 430.0C516.7 434.2 535.5 437.2 550.0 440.0C564.5 442.8 577.0 444.5 587.0 447.0C597.0 449.5 602.2 452.5 610.0 455.0C617.8 457.5 630.0 460.8 634.0 462.0" stroke="url(#g47)"/>
<path d="M215.6 410.6C220.3 411.2 233.1 413.3 244.0 414.0C254.9 414.7 268.3 415.5 281.0 415.0C293.7 414.5 304.5 412.0 320.0 411.0C335.5 410.0 355.7 408.8 374.0 409.0C392.3 409.2 411.3 411.2 430.0 412.5C448.7 413.8 473.8 415.9 486.0 417.0C498.2 418.1 500.2 418.7 503.0 419.0" stroke="url(#g48)"/>
<path d="M330.0 408.0C341.7 407.3 380.0 405.7 400.0 404.0C420.0 402.3 435.0 400.0 450.0 398.0C465.0 396.0 476.5 394.7 490.0 392.0C503.5 389.3 518.5 385.2 531.0 382.0C543.5 378.8 555.6 374.7 565.0 372.5C574.4 370.3 577.5 370.0 587.5 369.0C597.5 368.0 613.4 366.7 625.0 366.5C636.6 366.3 651.7 367.8 657.0 368.0" stroke="url(#g49)"/>
<path d="M420.0 395.0C427.8 395.4 453.7 396.8 467.0 397.5C480.3 398.2 486.8 398.2 500.0 399.0C513.2 399.8 534.5 401.3 546.0 402.5C557.5 403.7 562.1 403.8 569.0 406.0C575.9 408.2 581.9 413.1 587.5 415.6C593.1 418.1 600.0 420.1 602.5 421.0" stroke="url(#g50)"/>
<path d="M350.0 385.0C358.3 385.2 383.3 385.5 400.0 386.0C416.7 386.5 431.2 387.2 450.0 388.0C468.8 388.8 495.8 389.8 512.5 391.0C529.2 392.2 537.2 393.0 550.0 395.0C562.8 397.0 582.5 401.7 589.0 403.0" stroke="url(#g51)"/>
<path d="M195.0 380.6C202.5 380.5 222.5 380.8 240.0 380.0C257.5 379.2 281.7 377.3 300.0 376.0C318.3 374.7 333.3 372.7 350.0 372.0C366.7 371.3 385.2 371.5 400.0 372.0C414.8 372.5 429.7 374.0 439.0 375.0C448.3 376.0 443.8 376.2 456.0 378.0C468.2 379.8 496.8 384.0 512.5 385.6C528.2 387.2 537.5 386.9 550.0 387.5C562.5 388.1 576.6 387.8 587.5 389.0C598.4 390.2 607.2 393.2 615.6 395.0C624.0 396.8 634.3 398.9 638.0 399.7" stroke="url(#g52)"/>
<path d="M169.0 366.5C175.2 366.8 193.5 367.4 206.0 368.0C218.5 368.6 231.5 369.2 244.0 370.0C256.5 370.8 265.0 372.7 281.0 373.0C297.0 373.3 320.2 372.7 340.0 372.0C359.8 371.3 383.8 370.2 400.0 369.0C416.2 367.8 425.0 365.0 437.5 365.0C450.0 365.0 462.5 367.7 475.0 369.0C487.5 370.3 503.5 371.9 512.5 373.0C521.5 374.1 526.2 375.1 529.0 375.5" stroke="url(#g53)"/>
<path d="M234.0 270.0C238.7 271.5 251.0 275.0 262.0 279.0C273.0 283.0 287.5 289.7 300.0 294.0C312.5 298.3 324.5 301.7 337.0 305.0C349.5 308.3 362.5 310.5 375.0 314.0C387.5 317.5 399.5 322.2 412.0 326.0C424.5 329.8 439.2 333.8 450.0 337.0C460.8 340.2 468.7 342.3 477.0 345.0C485.3 347.7 496.2 351.7 500.0 353.0" stroke="url(#g54)"/>
<path d="M161.0 345.0C165.0 345.0 177.5 344.8 185.0 345.0C192.5 345.2 193.2 345.2 206.0 346.0C218.8 346.8 246.3 348.8 262.0 350.0C277.7 351.2 284.5 352.3 300.0 353.0C315.5 353.7 333.3 353.8 355.0 354.0C376.7 354.2 408.2 353.8 430.0 354.0C451.8 354.2 472.7 354.8 486.0 355.0C499.3 355.2 503.2 355.2 510.0 355.5C516.8 355.8 524.2 356.3 527.0 356.5" stroke="url(#g55)"/>
<path d="M186.0 330.0C191.0 330.2 207.0 330.2 216.0 331.0C225.0 331.8 232.3 333.7 240.0 335.0C247.7 336.3 252.0 337.5 262.0 339.0C272.0 340.5 287.5 343.4 300.0 344.0C312.5 344.6 326.0 343.3 337.0 342.5C348.0 341.7 353.7 339.4 366.0 339.0C378.3 338.6 397.2 340.1 411.0 340.0C424.8 339.9 439.7 339.1 449.0 338.5C458.3 337.9 457.7 337.4 467.0 336.5C476.3 335.6 492.5 334.1 505.0 333.0C517.5 331.9 529.5 330.7 542.0 330.0C554.5 329.3 567.8 328.8 580.0 329.0C592.2 329.2 609.2 330.7 615.0 331.0" stroke="url(#g56)"/>
<path d="M196.0 322.0C200.8 322.3 214.0 324.0 225.0 324.0C236.0 324.0 249.5 321.4 262.0 322.0C274.5 322.6 287.5 326.0 300.0 327.5C312.5 329.0 324.5 329.8 337.0 331.0C349.5 332.2 362.5 333.3 375.0 335.0C387.5 336.7 399.5 339.2 412.0 341.0C424.5 342.8 440.8 344.2 450.0 346.0C459.2 347.8 457.8 349.3 467.0 352.0C476.2 354.7 494.3 359.8 505.0 362.0C515.7 364.2 523.5 363.7 531.0 365.0C538.5 366.3 540.6 367.5 550.0 370.0C559.4 372.5 578.5 377.8 587.5 380.0C596.5 382.2 601.2 382.5 604.0 383.0" stroke="url(#g57)"/>
<path d="M188.0 314.0C192.5 313.8 205.7 313.2 215.0 313.0C224.3 312.8 234.5 312.2 244.0 313.0C253.5 313.8 262.7 316.0 272.0 318.0C281.3 320.0 289.3 322.7 300.0 325.0C310.7 327.3 323.7 330.8 336.0 332.0C348.3 333.2 361.5 333.0 374.0 332.0C386.5 331.0 398.5 328.2 411.0 326.0C423.5 323.8 436.5 321.8 449.0 319.0C461.5 316.2 473.5 311.8 486.0 309.0C498.5 306.2 513.3 304.5 524.0 302.0C534.7 299.5 539.5 297.0 550.0 294.0C560.5 291.0 574.5 286.4 587.0 284.0C599.5 281.6 615.3 280.6 625.0 279.7C634.7 278.8 641.7 278.9 645.0 278.8" stroke="url(#g58)"/>
<path d="M228.0 266.0C233.7 266.7 250.0 268.8 262.0 270.0C274.0 271.2 287.5 270.7 300.0 273.0C312.5 275.3 326.0 281.2 337.0 284.0C348.0 286.8 356.5 287.5 366.0 290.0C375.5 292.5 382.2 296.3 394.0 299.0C405.8 301.7 423.5 303.3 437.0 306.0C450.5 308.7 462.5 311.0 475.0 315.0C487.5 319.0 499.5 325.4 512.0 330.0C524.5 334.6 539.5 339.2 550.0 342.5C560.5 345.8 568.0 348.1 575.0 350.0C582.0 351.9 589.2 353.3 592.0 354.0" stroke="url(#g59)"/>
<path d="M203.0 279.0C204.7 278.3 209.3 275.8 213.0 275.0C216.7 274.2 217.2 273.8 225.0 274.0C232.8 274.2 247.5 275.2 260.0 276.0C272.5 276.8 284.0 277.9 300.0 279.0C316.0 280.1 340.3 282.3 356.0 282.5C371.7 282.7 380.5 281.6 394.0 280.0C407.5 278.4 423.5 275.4 437.0 273.0C450.5 270.6 462.5 267.9 475.0 265.6C487.5 263.3 500.2 261.0 512.0 259.0C523.8 257.0 538.0 254.7 546.0 253.4C554.0 252.2 553.2 252.1 560.0 251.5C566.8 250.9 577.8 249.8 587.0 249.7C596.2 249.5 606.8 249.8 615.0 250.6C623.2 251.4 632.5 253.8 636.0 254.4" stroke="url(#g60)"/>
<path d="M231.0 266.0C236.7 266.3 253.5 267.3 265.0 268.0C276.5 268.7 287.5 269.7 300.0 270.0C312.5 270.3 327.5 270.3 340.0 270.0C352.5 269.7 363.0 269.5 375.0 268.0C387.0 266.5 399.5 263.7 412.0 261.0C424.5 258.3 439.5 254.0 450.0 252.0C460.5 250.0 464.7 251.0 475.0 249.0C485.3 247.0 499.5 242.8 512.0 240.0C524.5 237.2 537.5 234.7 550.0 232.0C562.5 229.3 577.0 225.8 587.0 224.0C597.0 222.2 603.5 221.7 610.0 221.0C616.5 220.3 623.3 220.2 626.0 220.0" stroke="url(#g61)"/>
<path d="M226.0 265.0C231.7 265.2 247.7 265.8 260.0 266.0C272.3 266.2 286.7 266.7 300.0 266.0C313.3 265.3 327.5 263.7 340.0 262.0C352.5 260.3 363.0 258.5 375.0 256.0C387.0 253.5 399.5 250.1 412.0 247.0C424.5 243.9 439.5 240.0 450.0 237.5C460.5 235.0 465.8 234.1 475.0 232.0C484.2 229.9 495.7 228.2 505.0 225.0C514.3 221.8 520.3 216.5 531.0 213.0C541.7 209.5 556.5 206.5 569.0 204.0C581.5 201.5 595.5 199.8 606.0 198.0C616.5 196.2 624.5 194.3 632.0 193.0C639.5 191.7 647.8 190.5 651.0 190.0" stroke="url(#g62)"/>
</g>
<circle cx="224.5" cy="263.5" r="2.6" fill="none" stroke="#3a7fd0" stroke-width="1.3"/>
<circle cx="229" cy="265" r="2.6" fill="none" stroke="#7fc060" stroke-width="1.3"/>
<circle cx="233" cy="266.5" r="2.6" fill="none" stroke="#b8c040" stroke-width="1.3"/>
<circle cx="237" cy="267.5" r="2.6" fill="none" stroke="#d8b838" stroke-width="1.3"/>
<circle cx="554" cy="467" r="3.4" fill="#f0b020" stroke="#f4ec20" stroke-width="2"/>
<g stroke="#262626" stroke-width="6.6" stroke-linecap="square" fill="none">
<path d="M106.0 190.2L106.0 595.0L552.0 641.2L760.0 541.2" stroke-linejoin="miter"/>
</g>
<g stroke="#262626" stroke-width="4.6" stroke-linecap="butt">
<line x1="91.0" y1="594.4" x2="106.0" y2="595.9" stroke="#262626" stroke-width="6.2" />
<line x1="91.0" y1="493.2" x2="106.0" y2="494.7" stroke="#262626" stroke-width="6.2" />
<line x1="91.0" y1="392.0" x2="106.0" y2="393.5" stroke="#262626" stroke-width="6.2" />
<line x1="91.0" y1="290.8" x2="106.0" y2="292.3" stroke="#262626" stroke-width="6.2" />
<line x1="91.0" y1="189.6" x2="106.0" y2="191.1" stroke="#262626" stroke-width="6.2" />
<line x1="106.0" y1="595.0" x2="94.3" y2="600.6" stroke="#262626" stroke-width="6.0" />
<line x1="329.0" y1="618.1" x2="317.3" y2="623.7" stroke="#262626" stroke-width="6.0" />
<line x1="552.0" y1="641.2" x2="540.3" y2="646.8" stroke="#262626" stroke-width="6.0" />
<line x1="560.0" y1="637.4" x2="575.9" y2="639.0" stroke="#262626" stroke-width="6.0" />
<line x1="615.0" y1="610.9" x2="630.9" y2="612.6" stroke="#262626" stroke-width="6.0" />
<line x1="670.0" y1="584.5" x2="685.9" y2="586.1" stroke="#262626" stroke-width="6.0" />
<line x1="725.0" y1="558.0" x2="740.9" y2="559.7" stroke="#262626" stroke-width="6.0" />
</g>
<text x="80.5" y="607.0" font-size="37.5" font-family="'Liberation Sans', sans-serif" text-anchor="end" fill="#1a1a1a" >0</text>
<text x="80.5" y="505.8" font-size="37.5" font-family="'Liberation Sans', sans-serif" text-anchor="end" fill="#1a1a1a" >1</text>
<text x="80.5" y="404.6" font-size="37.5" font-family="'Liberation Sans', sans-serif" text-anchor="end" fill="#1a1a1a" >2</text>
<text x="80.5" y="303.4" font-size="37.5" font-family="'Liberation Sans', sans-serif" text-anchor="end" fill="#1a1a1a" >3</text>
<text x="80.5" y="202.2" font-size="37.5" font-family="'Liberation Sans', sans-serif" text-anchor="end" fill="#1a1a1a" >4</text>
<text x="82.5" y="643.3" font-size="37.5" font-family="'Liberation Sans', sans-serif" text-anchor="end" fill="#1a1a1a" >-5</text>
<text x="296" y="666.5" font-size="37.5" font-family="'Liberation Sans', sans-serif" text-anchor="middle" fill="#1a1a1a" >0</text>
<text x="519.5" y="690" font-size="37.5" font-family="'Liberation Sans', sans-serif" text-anchor="middle" fill="#1a1a1a" >5</text>
<text x="601" y="678.5" font-size="37.5" font-family="'Liberation Sans', sans-serif" text-anchor="middle" fill="#1a1a1a" >-2</text>
<text x="655" y="651" font-size="37.5" font-family="'Liberation Sans', sans-serif" text-anchor="middle" fill="#1a1a1a" >-1</text>
<text x="705" y="623" font-size="37.5" font-family="'Liberation Sans', sans-serif" text-anchor="middle" fill="#1a1a1a" >0</text>
<text x="757" y="597" font-size="37.5" font-family="'Liberation Sans', sans-serif" text-anchor="middle" fill="#1a1a1a" >1</text>
<text y="39" font-family="'Liberation Serif', serif" font-weight="bold" fill="#111" stroke="#111" stroke-width="0.5"><tspan x="11" font-size="48" dy="0">(</tspan><tspan x="28.5" font-size="46" dy="0">a</tspan><tspan x="53.5" font-size="48" dy="0">)</tspan></text>
<text x="308" y="33.5" font-size="46" font-family="'Liberation Serif', serif" text-anchor="start" fill="#1a1a1a" textLength="109" lengthAdjust="spacing">Speed</text>
<text x="437" y="33.5" font-size="46" font-family="'Liberation Serif', serif" text-anchor="start" fill="#1a1a1a" textLength="104" lengthAdjust="spacing">(m/s)</text>
<text x="234" y="80" font-size="30" font-family="'Liberation Serif', serif" text-anchor="middle" fill="#1a1a1a" >1</text>
<text x="426" y="80" font-size="30" font-family="'Liberation Serif', serif" text-anchor="middle" fill="#1a1a1a" >1.5</text>
<text x="617" y="80" font-size="30" font-family="'Liberation Serif', serif" text-anchor="middle" fill="#1a1a1a" >2</text>
<text x="243" y="724.5" font-size="44" font-family="'Liberation Serif', serif" fill="#1a1a1a"><tspan font-style="italic" font-size="46">x</tspan><tspan dx="21">(m)</tspan></text>
<text x="696" y="712" font-size="46" font-family="'Liberation Serif', serif" fill="#1a1a1a"><tspan font-style="italic">y</tspan><tspan dx="20">(m)</tspan></text>
<text transform="translate(35,442) rotate(-90)" font-size="46" font-family="'Liberation Serif', serif" fill="#1a1a1a"><tspan font-style="italic">z</tspan><tspan dx="19">(m)</tspan></text>
<g fill="#2b2b2b">
<rect x="955.4" y="7.5" width="644.6" height="6.6"/>
<rect x="955.4" y="598.4" width="644.6" height="6.6"/>
<rect x="955.4" y="7.5" width="7" height="597.5"/>
<rect x="1592" y="7.5" width="8" height="597.5"/>
<rect x="961.4" y="574.8" width="6" height="4.4"/>
<rect x="1586" y="574.8" width="6" height="4.4"/>
<rect x="961.4" y="550.3" width="2.2" height="2.4"/>
<rect x="1589.8" y="550.3" width="2.2" height="2.4"/>
<rect x="961.4" y="535.4" width="2.2" height="2.4"/>
<rect x="1589.8" y="535.4" width="2.2" height="2.4"/>
<rect x="961.4" y="524.8" width="2.2" height="2.4"/>
<rect x="1589.8" y="524.8" width="2.2" height="2.4"/>
<rect x="961.4" y="516.6" width="2.2" height="2.4"/>
<rect x="1589.8" y="516.6" width="2.2" height="2.4"/>
<rect x="961.4" y="509.9" width="2.2" height="2.4"/>
<rect x="1589.8" y="509.9" width="2.2" height="2.4"/>
<rect x="961.4" y="504.3" width="2.2" height="2.4"/>
<rect x="1589.8" y="504.3" width="2.2" height="2.4"/>
<rect x="961.4" y="499.4" width="2.2" height="2.4"/>
<rect x="1589.8" y="499.4" width="2.2" height="2.4"/>
<rect x="961.4" y="495.0" width="2.2" height="2.4"/>
<rect x="1589.8" y="495.0" width="2.2" height="2.4"/>
<rect x="961.4" y="490.2" width="3" height="4.4"/>
<rect x="1589" y="490.2" width="3" height="4.4"/>
<rect x="961.4" y="465.7" width="2.2" height="2.4"/>
<rect x="1589.8" y="465.7" width="2.2" height="2.4"/>
<rect x="961.4" y="450.8" width="2.2" height="2.4"/>
<rect x="1589.8" y="450.8" width="2.2" height="2.4"/>
<rect x="961.4" y="440.2" width="2.2" height="2.4"/>
<rect x="1589.8" y="440.2" width="2.2" height="2.4"/>
<rect x="961.4" y="432.0" width="2.2" height="2.4"/>
<rect x="1589.8" y="432.0" width="2.2" height="2.4"/>
<rect x="961.4" y="425.3" width="2.2" height="2.4"/>
<rect x="1589.8" y="425.3" width="2.2" height="2.4"/>
<rect x="961.4" y="419.6" width="2.2" height="2.4"/>
<rect x="1589.8" y="419.6" width="2.2" height="2.4"/>
<rect x="961.4" y="414.7" width="2.2" height="2.4"/>
<rect x="1589.8" y="414.7" width="2.2" height="2.4"/>
<rect x="961.4" y="410.4" width="2.2" height="2.4"/>
<rect x="1589.8" y="410.4" width="2.2" height="2.4"/>
<rect x="961.4" y="405.5" width="6" height="4.4"/>
<rect x="1586" y="405.5" width="6" height="4.4"/>
<rect x="961.4" y="381.0" width="2.2" height="2.4"/>
<rect x="1589.8" y="381.0" width="2.2" height="2.4"/>
<rect x="961.4" y="366.1" width="2.2" height="2.4"/>
<rect x="1589.8" y="366.1" width="2.2" height="2.4"/>
<rect x="961.4" y="355.5" width="2.2" height="2.4"/>
<rect x="1589.8" y="355.5" width="2.2" height="2.4"/>
<rect x="961.4" y="347.3" width="2.2" height="2.4"/>
<rect x="1589.8" y="347.3" width="2.2" height="2.4"/>
<rect x="961.4" y="340.6" width="2.2" height="2.4"/>
<rect x="1589.8" y="340.6" width="2.2" height="2.4"/>
<rect x="961.4" y="335.0" width="2.2" height="2.4"/>
<rect x="1589.8" y="335.0" width="2.2" height="2.4"/>
<rect x="961.4" y="330.1" width="2.2" height="2.4"/>
<rect x="1589.8" y="330.1" width="2.2" height="2.4"/>
<rect x="961.4" y="325.7" width="2.2" height="2.4"/>
<rect x="1589.8" y="325.7" width="2.2" height="2.4"/>
<rect x="961.4" y="320.8" width="3" height="4.4"/>
<rect x="1589" y="320.8" width="3" height="4.4"/>
<rect x="961.4" y="296.4" width="2.2" height="2.4"/>
<rect x="1589.8" y="296.4" width="2.2" height="2.4"/>
<rect x="961.4" y="281.5" width="2.2" height="2.4"/>
<rect x="1589.8" y="281.5" width="2.2" height="2.4"/>
<rect x="961.4" y="270.9" width="2.2" height="2.4"/>
<rect x="1589.8" y="270.9" width="2.2" height="2.4"/>
<rect x="961.4" y="262.7" width="2.2" height="2.4"/>
<rect x="1589.8" y="262.7" width="2.2" height="2.4"/>
<rect x="961.4" y="256.0" width="2.2" height="2.4"/>
<rect x="1589.8" y="256.0" width="2.2" height="2.4"/>
<rect x="961.4" y="250.3" width="2.2" height="2.4"/>
<rect x="1589.8" y="250.3" width="2.2" height="2.4"/>
<rect x="961.4" y="245.4" width="2.2" height="2.4"/>
<rect x="1589.8" y="245.4" width="2.2" height="2.4"/>
<rect x="961.4" y="241.1" width="2.2" height="2.4"/>
<rect x="1589.8" y="241.1" width="2.2" height="2.4"/>
<rect x="961.4" y="236.2" width="6" height="4.4"/>
<rect x="1586" y="236.2" width="6" height="4.4"/>
<rect x="961.4" y="211.7" width="2.2" height="2.4"/>
<rect x="1589.8" y="211.7" width="2.2" height="2.4"/>
<rect x="961.4" y="196.8" width="2.2" height="2.4"/>
<rect x="1589.8" y="196.8" width="2.2" height="2.4"/>
<rect x="961.4" y="186.2" width="2.2" height="2.4"/>
<rect x="1589.8" y="186.2" width="2.2" height="2.4"/>
<rect x="961.4" y="178.0" width="2.2" height="2.4"/>
<rect x="1589.8" y="178.0" width="2.2" height="2.4"/>
<rect x="961.4" y="171.3" width="2.2" height="2.4"/>
<rect x="1589.8" y="171.3" width="2.2" height="2.4"/>
<rect x="961.4" y="165.7" width="2.2" height="2.4"/>
<rect x="1589.8" y="165.7" width="2.2" height="2.4"/>
<rect x="961.4" y="160.8" width="2.2" height="2.4"/>
<rect x="1589.8" y="160.8" width="2.2" height="2.4"/>
<rect x="961.4" y="156.4" width="2.2" height="2.4"/>
<rect x="1589.8" y="156.4" width="2.2" height="2.4"/>
<rect x="961.4" y="151.6" width="3" height="4.4"/>
<rect x="1589" y="151.6" width="3" height="4.4"/>
<rect x="961.4" y="127.1" width="2.2" height="2.4"/>
<rect x="1589.8" y="127.1" width="2.2" height="2.4"/>
<rect x="961.4" y="112.2" width="2.2" height="2.4"/>
<rect x="1589.8" y="112.2" width="2.2" height="2.4"/>
<rect x="961.4" y="101.6" width="2.2" height="2.4"/>
<rect x="1589.8" y="101.6" width="2.2" height="2.4"/>
<rect x="961.4" y="93.4" width="2.2" height="2.4"/>
<rect x="1589.8" y="93.4" width="2.2" height="2.4"/>
<rect x="961.4" y="86.7" width="2.2" height="2.4"/>
<rect x="1589.8" y="86.7" width="2.2" height="2.4"/>
<rect x="961.4" y="81.0" width="2.2" height="2.4"/>
<rect x="1589.8" y="81.0" width="2.2" height="2.4"/>
<rect x="961.4" y="76.1" width="2.2" height="2.4"/>
<rect x="1589.8" y="76.1" width="2.2" height="2.4"/>
<rect x="961.4" y="71.8" width="2.2" height="2.4"/>
<rect x="1589.8" y="71.8" width="2.2" height="2.4"/>
<rect x="961.4" y="66.9" width="3" height="4.4"/>
<rect x="1589" y="66.9" width="3" height="4.4"/>
<rect x="961.4" y="42.4" width="2.2" height="2.4"/>
<rect x="1589.8" y="42.4" width="2.2" height="2.4"/>
<rect x="961.4" y="27.5" width="2.2" height="2.4"/>
<rect x="1589.8" y="27.5" width="2.2" height="2.4"/>
<rect x="961.4" y="16.9" width="2.2" height="2.4"/>
<rect x="1589.8" y="16.9" width="2.2" height="2.4"/>
<rect x="963.0" y="593" width="6" height="6"/>
<rect x="963.0" y="13.5" width="6" height="6"/>
<rect x="1131.0" y="593" width="6" height="6"/>
<rect x="1299.0" y="593" width="6" height="6"/>
<rect x="1467.0" y="593" width="6" height="6"/>
<rect x="1136.5" y="13.5" width="447.5" height="6.6"/>
<rect x="1136.5" y="231" width="447.5" height="7"/>
<rect x="1136.5" y="13.5" width="7.5" height="224.5"/>
<rect x="1576" y="13.5" width="8" height="224.5"/>
<rect x="1193.3" y="229" width="3" height="2.5"/>
<rect x="1193.3" y="19.5" width="3" height="2.5"/>
<rect x="1227.0" y="229" width="3" height="2.5"/>
<rect x="1227.0" y="19.5" width="3" height="2.5"/>
<rect x="1250.9" y="229" width="3" height="2.5"/>
<rect x="1250.9" y="19.5" width="3" height="2.5"/>
<rect x="1269.4" y="229" width="3" height="2.5"/>
<rect x="1269.4" y="19.5" width="3" height="2.5"/>
<rect x="1284.6" y="229" width="3" height="2.5"/>
<rect x="1284.6" y="19.5" width="3" height="2.5"/>
<rect x="1297.4" y="229" width="3" height="2.5"/>
<rect x="1297.4" y="19.5" width="3" height="2.5"/>
<rect x="1308.5" y="229" width="3" height="2.5"/>
<rect x="1308.5" y="19.5" width="3" height="2.5"/>
<rect x="1318.2" y="229" width="3" height="2.5"/>
<rect x="1318.2" y="19.5" width="3" height="2.5"/>
<rect x="1326.0" y="227" width="5" height="5"/>
<rect x="1326.0" y="19.5" width="5" height="5"/>
<rect x="1384.6" y="229" width="3" height="2.5"/>
<rect x="1384.6" y="19.5" width="3" height="2.5"/>
<rect x="1418.3" y="229" width="3" height="2.5"/>
<rect x="1418.3" y="19.5" width="3" height="2.5"/>
<rect x="1442.2" y="229" width="3" height="2.5"/>
<rect x="1442.2" y="19.5" width="3" height="2.5"/>
<rect x="1460.7" y="229" width="3" height="2.5"/>
<rect x="1460.7" y="19.5" width="3" height="2.5"/>
<rect x="1475.9" y="229" width="3" height="2.5"/>
<rect x="1475.9" y="19.5" width="3" height="2.5"/>
<rect x="1488.7" y="229" width="3" height="2.5"/>
<rect x="1488.7" y="19.5" width="3" height="2.5"/>
<rect x="1499.8" y="229" width="3" height="2.5"/>
<rect x="1499.8" y="19.5" width="3" height="2.5"/>
<rect x="1509.5" y="229" width="3" height="2.5"/>
<rect x="1509.5" y="19.5" width="3" height="2.5"/>
<rect x="1517.3" y="227" width="5" height="5"/>
<rect x="1517.3" y="19.5" width="5" height="5"/>
<rect x="1143.5" y="219.5" width="2.2" height="2.2"/>
<rect x="1573.8" y="219.5" width="2.2" height="2.2"/>
<rect x="1143.5" y="210.6" width="2.2" height="2.2"/>
<rect x="1573.8" y="210.6" width="2.2" height="2.2"/>
<rect x="1143.5" y="204.3" width="2.2" height="2.2"/>
<rect x="1573.8" y="204.3" width="2.2" height="2.2"/>
<rect x="1143.5" y="199.4" width="2.2" height="2.2"/>
<rect x="1573.8" y="199.4" width="2.2" height="2.2"/>
<rect x="1143.5" y="195.5" width="2.2" height="2.2"/>
<rect x="1573.8" y="195.5" width="2.2" height="2.2"/>
<rect x="1143.5" y="192.1" width="2.2" height="2.2"/>
<rect x="1573.8" y="192.1" width="2.2" height="2.2"/>
<rect x="1143.5" y="189.2" width="2.2" height="2.2"/>
<rect x="1573.8" y="189.2" width="2.2" height="2.2"/>
<rect x="1143.5" y="186.6" width="2.2" height="2.2"/>
<rect x="1573.8" y="186.6" width="2.2" height="2.2"/>
<rect x="1143.5" y="183.4" width="5" height="4"/>
<rect x="1571" y="183.4" width="5" height="4"/>
<rect x="1143.5" y="169.2" width="2.2" height="2.2"/>
<rect x="1573.8" y="169.2" width="2.2" height="2.2"/>
<rect x="1143.5" y="160.3" width="2.2" height="2.2"/>
<rect x="1573.8" y="160.3" width="2.2" height="2.2"/>
<rect x="1143.5" y="154.0" width="2.2" height="2.2"/>
<rect x="1573.8" y="154.0" width="2.2" height="2.2"/>
<rect x="1143.5" y="149.1" width="2.2" height="2.2"/>
<rect x="1573.8" y="149.1" width="2.2" height="2.2"/>
<rect x="1143.5" y="145.2" width="2.2" height="2.2"/>
<rect x="1573.8" y="145.2" width="2.2" height="2.2"/>
<rect x="1143.5" y="141.8" width="2.2" height="2.2"/>
<rect x="1573.8" y="141.8" width="2.2" height="2.2"/>
<rect x="1143.5" y="138.9" width="2.2" height="2.2"/>
<rect x="1573.8" y="138.9" width="2.2" height="2.2"/>
<rect x="1143.5" y="136.3" width="2.2" height="2.2"/>
<rect x="1573.8" y="136.3" width="2.2" height="2.2"/>
<rect x="1143.5" y="133.1" width="5" height="4"/>
<rect x="1571" y="133.1" width="5" height="4"/>
<rect x="1143.5" y="118.9" width="2.2" height="2.2"/>
<rect x="1573.8" y="118.9" width="2.2" height="2.2"/>
<rect x="1143.5" y="110.0" width="2.2" height="2.2"/>
<rect x="1573.8" y="110.0" width="2.2" height="2.2"/>
<rect x="1143.5" y="103.7" width="2.2" height="2.2"/>
<rect x="1573.8" y="103.7" width="2.2" height="2.2"/>
<rect x="1143.5" y="98.8" width="2.2" height="2.2"/>
<rect x="1573.8" y="98.8" width="2.2" height="2.2"/>
<rect x="1143.5" y="94.9" width="2.2" height="2.2"/>
<rect x="1573.8" y="94.9" width="2.2" height="2.2"/>
<rect x="1143.5" y="91.5" width="2.2" height="2.2"/>
<rect x="1573.8" y="91.5" width="2.2" height="2.2"/>
<rect x="1143.5" y="88.6" width="2.2" height="2.2"/>
<rect x="1573.8" y="88.6" width="2.2" height="2.2"/>
<rect x="1143.5" y="86.0" width="2.2" height="2.2"/>
<rect x="1573.8" y="86.0" width="2.2" height="2.2"/>
<rect x="1143.5" y="82.8" width="5" height="4"/>
<rect x="1571" y="82.8" width="5" height="4"/>
<rect x="1143.5" y="68.6" width="2.2" height="2.2"/>
<rect x="1573.8" y="68.6" width="2.2" height="2.2"/>
<rect x="1143.5" y="59.7" width="2.2" height="2.2"/>
<rect x="1573.8" y="59.7" width="2.2" height="2.2"/>
<rect x="1143.5" y="53.4" width="2.2" height="2.2"/>
<rect x="1573.8" y="53.4" width="2.2" height="2.2"/>
<rect x="1143.5" y="48.5" width="2.2" height="2.2"/>
<rect x="1573.8" y="48.5" width="2.2" height="2.2"/>
<rect x="1143.5" y="44.6" width="2.2" height="2.2"/>
<rect x="1573.8" y="44.6" width="2.2" height="2.2"/>
<rect x="1143.5" y="41.2" width="2.2" height="2.2"/>
<rect x="1573.8" y="41.2" width="2.2" height="2.2"/>
<rect x="1143.5" y="38.3" width="2.2" height="2.2"/>
<rect x="1573.8" y="38.3" width="2.2" height="2.2"/>
<rect x="1143.5" y="35.7" width="2.2" height="2.2"/>
<rect x="1573.8" y="35.7" width="2.2" height="2.2"/>
<rect x="1143.5" y="32.5" width="5" height="4"/>
<rect x="1571" y="32.5" width="5" height="4"/>
</g>
<g fill="#000">
<circle cx="978.4" cy="225.6" r="7.3"/>
<circle cx="986.8" cy="233.8" r="7.3"/>
<circle cx="995.2" cy="251.4" r="7.3"/>
<circle cx="1003.7" cy="264.9" r="7.3"/>
<circle cx="1012.1" cy="273.2" r="7.3"/>
<circle cx="1020.5" cy="278.9" r="7.3"/>
<circle cx="1028.9" cy="284.0" r="7.3"/>
<circle cx="1037.3" cy="288.2" r="7.3"/>
<circle cx="1045.8" cy="292.1" r="7.3"/>
<circle cx="1054.2" cy="295.7" r="7.3"/>
<circle cx="1062.6" cy="299.1" r="7.3"/>
<circle cx="1071.0" cy="302.5" r="7.3"/>
<circle cx="1079.4" cy="304.9" r="7.3"/>
<circle cx="1087.9" cy="307.4" r="7.3"/>
<circle cx="1096.3" cy="309.9" r="7.3"/>
<circle cx="1104.7" cy="312.5" r="7.3"/>
<circle cx="1113.1" cy="314.6" r="7.3"/>
<circle cx="1121.5" cy="316.3" r="7.3"/>
<circle cx="1130.0" cy="318.0" r="7.3"/>
<circle cx="1138.4" cy="319.6" r="7.3"/>
<circle cx="1146.8" cy="321.2" r="7.3"/>
<circle cx="1155.2" cy="323.4" r="7.3"/>
<circle cx="1163.6" cy="325.6" r="7.3"/>
<circle cx="1172.1" cy="329.4" r="7.3"/>
<circle cx="1180.5" cy="333.0" r="7.3"/>
<circle cx="1188.9" cy="335.7" r="7.3"/>
<circle cx="1197.3" cy="338.5" r="7.3"/>
<circle cx="1205.7" cy="341.9" r="7.3"/>
<circle cx="1214.2" cy="345.1" r="7.3"/>
<circle cx="1222.6" cy="348.0" r="7.3"/>
<circle cx="1231.0" cy="343.9" r="7.3"/>
<circle cx="1239.4" cy="344.3" r="7.3"/>
<circle cx="1247.8" cy="345.8" r="7.3"/>
<circle cx="1256.3" cy="348.3" r="7.3"/>
<circle cx="1264.7" cy="350.7" r="7.3"/>
<circle cx="1273.1" cy="352.8" r="7.3"/>
<circle cx="1281.5" cy="355.1" r="7.3"/>
<circle cx="1289.9" cy="358.4" r="7.3"/>
<circle cx="1298.4" cy="361.7" r="7.3"/>
<circle cx="1306.8" cy="365.5" r="7.3"/>
<circle cx="1315.2" cy="369.3" r="7.3"/>
<circle cx="1323.6" cy="375.3" r="7.3"/>
<circle cx="1332.0" cy="382.5" r="7.3"/>
<circle cx="1340.5" cy="390.0" r="7.3"/>
<circle cx="1348.0" cy="401.5" r="7.3"/>
<circle cx="1357.0" cy="401.5" r="7.3"/>
<circle cx="1365.6" cy="412.0" r="7.3"/>
<circle cx="1374.0" cy="420.0" r="7.3"/>
<circle cx="1382.5" cy="420.0" r="7.3"/>
<circle cx="1391.0" cy="437.0" r="7.3"/>
<circle cx="1399.4" cy="439.0" r="7.3"/>
<circle cx="1408.0" cy="457.0" r="7.3"/>
<circle cx="1416.0" cy="454.0" r="7.3"/>
<circle cx="1424.0" cy="475.0" r="7.3"/>
<circle cx="1433.0" cy="505.0" r="7.3"/>
<circle cx="1441.5" cy="482.0" r="7.3"/>
<circle cx="1449.0" cy="492.5" r="7.3"/>
<circle cx="1457.5" cy="492.5" r="7.3"/>
<circle cx="1466.5" cy="551.0" r="7.3"/>
<circle cx="1474.8" cy="526.0" r="7.3"/>
<circle cx="1491.6" cy="577.0" r="7.3"/>
<circle cx="1500.0" cy="536.0" r="7.3"/>
<circle cx="1508.0" cy="577.0" r="7.3"/>
<circle cx="1516.5" cy="577.0" r="7.3"/>
<circle cx="1525.6" cy="551.0" r="7.3"/>
<circle cx="1542.0" cy="577.0" r="7.3"/>
<circle cx="1236.8" cy="28.0" r="7.3"/>
<circle cx="1279.2" cy="33.5" r="7.3"/>
<circle cx="1307.2" cy="43.6" r="7.3"/>
<circle cx="1328.0" cy="51.6" r="7.3"/>
<circle cx="1344.7" cy="56.2" r="7.3"/>
<circle cx="1358.6" cy="59.1" r="7.3"/>
<circle cx="1370.5" cy="62.1" r="7.3"/>
<circle cx="1380.9" cy="64.8" r="7.3"/>
<circle cx="1390.1" cy="67.3" r="7.3"/>
<circle cx="1398.4" cy="69.7" r="7.3"/>
<circle cx="1406.0" cy="72.0" r="7.3"/>
<circle cx="1412.9" cy="74.1" r="7.3"/>
<circle cx="1419.3" cy="75.7" r="7.3"/>
<circle cx="1425.3" cy="77.3" r="7.3"/>
<circle cx="1430.8" cy="78.7" r="7.3"/>
<circle cx="1436.0" cy="80.0" r="7.3"/>
<circle cx="1440.9" cy="81.2" r="7.3"/>
<circle cx="1445.5" cy="82.3" r="7.3"/>
<circle cx="1449.9" cy="83.4" r="7.3"/>
<circle cx="1454.0" cy="84.8" r="7.3"/>
<circle cx="1458.0" cy="86.2" r="7.3"/>
<circle cx="1461.8" cy="87.5" r="7.3"/>
<circle cx="1465.4" cy="88.7" r="7.3"/>
<circle cx="1468.8" cy="89.9" r="7.3"/>
<circle cx="1472.2" cy="91.4" r="7.3"/>
<circle cx="1475.3" cy="92.9" r="7.3"/>
<circle cx="1478.4" cy="94.3" r="7.3"/>
<circle cx="1481.4" cy="95.6" r="7.3"/>
<circle cx="1484.3" cy="96.9" r="7.3"/>
<circle cx="1487.0" cy="98.2" r="7.3"/>
<circle cx="1489.7" cy="99.0" r="7.3"/>
<circle cx="1492.3" cy="99.7" r="7.3"/>
<circle cx="1494.8" cy="100.4" r="7.3"/>
<circle cx="1497.3" cy="101.2" r="7.3"/>
<circle cx="1499.6" cy="102.8" r="7.3"/>
<circle cx="1501.9" cy="104.3" r="7.3"/>
<circle cx="1504.2" cy="105.8" r="7.3"/>
<circle cx="1506.4" cy="107.3" r="7.3"/>
<circle cx="1508.5" cy="109.1" r="7.3"/>
<circle cx="1510.6" cy="110.8" r="7.3"/>
<circle cx="1512.6" cy="112.7" r="7.3"/>
<circle cx="1514.6" cy="114.9" r="7.3"/>
<circle cx="1516.5" cy="118.4" r="7.3"/>
<circle cx="1518.4" cy="123.3" r="7.3"/>
<circle cx="1520.3" cy="128.1" r="7.3"/>
<circle cx="1522.1" cy="132.7" r="7.3"/>
<circle cx="1523.8" cy="137.1" r="7.3"/>
<circle cx="1525.6" cy="141.6" r="7.3"/>
<circle cx="1527.3" cy="146.2" r="7.3"/>
<circle cx="1528.9" cy="150.8" r="7.3"/>
<circle cx="1530.6" cy="156.8" r="7.3"/>
<circle cx="1532.1" cy="162.7" r="7.3"/>
<circle cx="1533.7" cy="168.7" r="7.3"/>
<circle cx="1535.3" cy="174.6" r="7.3"/>
<circle cx="1538.0" cy="183.0" r="7.3"/>
<circle cx="1541.0" cy="186.0" r="7.3"/>
<circle cx="1534.0" cy="192.5" r="7.3"/>
<circle cx="1539.0" cy="197.0" r="7.3"/>
<circle cx="1542.0" cy="204.0" r="7.3"/>
<circle cx="1547.5" cy="211.0" r="7.3"/>
<circle cx="1544.0" cy="211.0" r="7.3"/>
<circle cx="1540.0" cy="220.0" r="7.3"/>
<circle cx="1546.0" cy="220.0" r="7.3"/>
<circle cx="1551.0" cy="220.0" r="7.3"/>
<circle cx="1545.6" cy="235.6" r="7.3"/>
<circle cx="1551.0" cy="235.6" r="7.3"/>
<circle cx="1556.0" cy="235.6" r="7.3"/>
<circle cx="1561.5" cy="235.6" r="7.3"/>
</g>
<text x="886.8" y="258.4" font-size="38" font-family="'Liberation Sans', sans-serif" fill="#1a1a1a"><tspan textLength="40.2" lengthAdjust="spacingAndGlyphs">10</tspan><tspan font-size="31" dy="-18" dx="0.5">4</tspan></text>
<text x="886.8" y="427.7" font-size="38" font-family="'Liberation Sans', sans-serif" fill="#1a1a1a"><tspan textLength="40.2" lengthAdjust="spacingAndGlyphs">10</tspan><tspan font-size="31" dy="-18" dx="0.5">2</tspan></text>
<text x="886.8" y="597" font-size="38" font-family="'Liberation Sans', sans-serif" fill="#1a1a1a"><tspan textLength="40.2" lengthAdjust="spacingAndGlyphs">10</tspan><tspan font-size="31" dy="-18" dx="0.5">0</tspan></text>
<text x="1060.5" y="108.8" font-size="41.5" font-family="'Liberation Sans', sans-serif" fill="#1a1a1a"><tspan textLength="44.4" lengthAdjust="spacingAndGlyphs">10</tspan><tspan font-size="33" dy="-19.5" dx="0.5">3</tspan></text>
<text x="1060.5" y="209.4" font-size="41.5" font-family="'Liberation Sans', sans-serif" fill="#1a1a1a"><tspan textLength="44.4" lengthAdjust="spacingAndGlyphs">10</tspan><tspan font-size="33" dy="-19.5" dx="0.5">1</tspan></text>
<text x="1102" y="304" font-size="41.5" font-family="'Liberation Sans', sans-serif" fill="#1a1a1a"><tspan textLength="44.4" lengthAdjust="spacingAndGlyphs">10</tspan><tspan font-size="33" dy="-19.5" dx="0.5">-2</tspan></text>
<text x="1293" y="304" font-size="41.5" font-family="'Liberation Sans', sans-serif" fill="#1a1a1a"><tspan textLength="44.4" lengthAdjust="spacingAndGlyphs">10</tspan><tspan font-size="33" dy="-19.5" dx="0.5">-1</tspan></text>
<text x="1488.5" y="304" font-size="41.5" font-family="'Liberation Sans', sans-serif" fill="#1a1a1a"><tspan textLength="44.4" lengthAdjust="spacingAndGlyphs">10</tspan><tspan font-size="33" dy="-19.5" dx="0.5">0</tspan></text>
<text x="966.0" y="655" font-size="37" font-family="'Liberation Sans', sans-serif" text-anchor="middle" fill="#1a1a1a" >0</text>
<text x="1134.0" y="655" font-size="37" font-family="'Liberation Sans', sans-serif" text-anchor="middle" fill="#1a1a1a" >200</text>
<text x="1302.0" y="655" font-size="37" font-family="'Liberation Sans', sans-serif" text-anchor="middle" fill="#1a1a1a" >400</text>
<text x="1470.0" y="655" font-size="37" font-family="'Liberation Sans', sans-serif" text-anchor="middle" fill="#1a1a1a" >600</text>
<text y="40" font-family="'Liberation Serif', serif" font-weight="bold" fill="#111" stroke="#111" stroke-width="0.5"><tspan x="854.5" font-size="52" dy="1">(</tspan><tspan x="874.5" font-size="47" dy="-1">b</tspan><tspan x="903.5" font-size="52" dy="1">)</tspan></text>
<text x="1057" y="702.5" font-size="44.5" font-family="'Liberation Serif', serif" text-anchor="start" fill="#1a1a1a" textLength="105" lengthAdjust="spacing">Track</text>
<text x="1179" y="702.5" font-size="44.5" font-family="'Liberation Serif', serif" text-anchor="start" fill="#1a1a1a" textLength="133" lengthAdjust="spacing">Length</text>
<text x="1331" y="702.5" font-size="44.5" font-family="'Liberation Serif', serif" text-anchor="start" fill="#1a1a1a" textLength="164" lengthAdjust="spacing">(Frames)</text>
<text transform="translate(859,370) rotate(-90)" font-size="43" font-family="'Liberation Serif', serif" fill="#1a1a1a" textLength="129" lengthAdjust="spacing">Counts</text>
<text y="351.5" font-size="46" font-family="'Liberation Serif', serif" fill="#1a1a1a" font-style="italic"><tspan x="1314">t</tspan><tspan x="1329" font-size="31" dy="8">d</tspan><tspan x="1350" dy="-1" font-size="64" font-style="normal">/</tspan><tspan x="1372" dy="-7">t</tspan><tspan x="1387" font-size="31" dy="8">r</tspan></text>
</svg>
</body></html>
